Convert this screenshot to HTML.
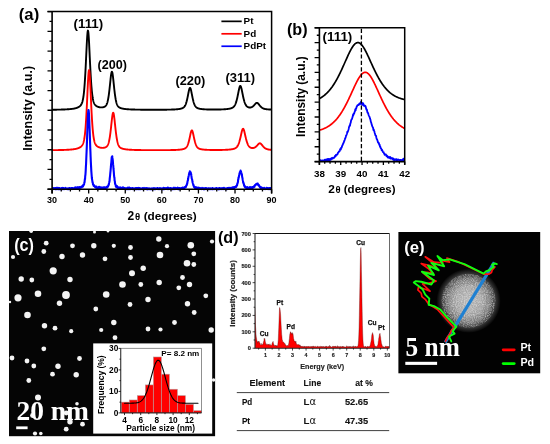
<!DOCTYPE html>
<html lang="en"><head><meta charset="utf-8"><title>XRD, TEM and EDS characterisation of Pt, Pd and PdPt nanoparticles</title>
<style>html,body{margin:0;padding:0;background:#fff}body{width:550px;height:444px;overflow:hidden}svg{display:block}</style></head><body>
<svg width="550" height="444" viewBox="0 0 550 444">
<defs>
<radialGradient id="np" cx="50%" cy="50%" r="50%"><stop offset="0" stop-color="#b8b8b8"/><stop offset="0.45" stop-color="#a0a0a0"/><stop offset="0.68" stop-color="#747474"/><stop offset="0.85" stop-color="#343434"/><stop offset="1" stop-color="#040404"/></radialGradient>
<filter id="grain" x="0" y="0" width="100%" height="100%"><feTurbulence type="fractalNoise" baseFrequency="0.9" numOctaves="2" seed="3" result="n"/><feColorMatrix in="n" type="matrix" values="0 0 0 0 1  0 0 0 0 1  0 0 0 0 1  1.6 0 0 0 -0.55" result="a"/><feComposite in="a" in2="SourceGraphic" operator="in"/></filter>
<filter id="soft" x="-20%" y="-20%" width="140%" height="140%"><feGaussianBlur stdDeviation="0.6"/></filter>
<clipPath id="clipA"><rect x="52" y="11" width="220" height="179.6"/></clipPath>
<clipPath id="clipB"><rect x="319.4" y="27" width="85.6" height="135.5"/></clipPath>
<clipPath id="clipC"><rect x="9.0" y="231.0" width="206.1" height="205.2"/></clipPath>
<clipPath id="clipD"><rect x="255" y="233" width="135" height="115.9"/></clipPath>
</defs>
<rect width="550" height="444" fill="#fff"/>
<g clip-path="url(#clipA)">
<path d="M52.10,109.75 L52.27,109.75 L52.44,109.74 L52.61,109.74 L52.78,109.74 L52.94,109.74 L53.11,109.73 L53.28,109.73 L53.45,109.73 L53.62,109.73 L53.79,109.73 L53.96,109.72 L54.13,109.72 L54.30,109.72 L54.47,109.72 L54.63,109.71 L54.80,109.71 L54.97,109.71 L55.14,109.70 L55.31,109.70 L55.48,109.70 L55.65,109.70 L55.82,109.69 L55.99,109.69 L56.16,109.69 L56.32,109.68 L56.49,109.68 L56.66,109.68 L56.83,109.67 L57.00,109.67 L57.17,109.67 L57.34,109.66 L57.51,109.66 L57.68,109.66 L57.85,109.65 L58.01,109.65 L58.18,109.65 L58.35,109.64 L58.52,109.64 L58.69,109.64 L58.86,109.63 L59.03,109.63 L59.20,109.62 L59.37,109.62 L59.53,109.62 L59.70,109.61 L59.87,109.61 L60.04,109.60 L60.21,109.60 L60.38,109.59 L60.55,109.59 L60.72,109.59 L60.89,109.58 L61.06,109.58 L61.22,109.57 L61.39,109.57 L61.56,109.56 L61.73,109.56 L61.90,109.55 L62.07,109.55 L62.24,109.54 L62.41,109.53 L62.58,109.53 L62.75,109.52 L62.91,109.52 L63.08,109.51 L63.25,109.50 L63.42,109.50 L63.59,109.49 L63.76,109.49 L63.93,109.48 L64.10,109.47 L64.27,109.47 L64.44,109.46 L64.60,109.45 L64.77,109.44 L64.94,109.44 L65.11,109.43 L65.28,109.42 L65.45,109.41 L65.62,109.40 L65.79,109.40 L65.96,109.39 L66.13,109.38 L66.29,109.37 L66.46,109.36 L66.63,109.35 L66.80,109.34 L66.97,109.33 L67.14,109.32 L67.31,109.31 L67.48,109.30 L67.65,109.29 L67.81,109.28 L67.98,109.27 L68.15,109.26 L68.32,109.25 L68.49,109.23 L68.66,109.22 L68.83,109.21 L69.00,109.20 L69.17,109.18 L69.34,109.17 L69.50,109.15 L69.67,109.14 L69.84,109.13 L70.01,109.11 L70.18,109.09 L70.35,109.08 L70.52,109.06 L70.69,109.05 L70.86,109.03 L71.03,109.01 L71.19,108.99 L71.36,108.97 L71.53,108.95 L71.70,108.93 L71.87,108.91 L72.04,108.89 L72.21,108.87 L72.38,108.85 L72.55,108.82 L72.72,108.80 L72.88,108.77 L73.05,108.75 L73.22,108.72 L73.39,108.69 L73.56,108.66 L73.73,108.64 L73.90,108.61 L74.07,108.57 L74.24,108.54 L74.40,108.51 L74.57,108.47 L74.74,108.44 L74.91,108.40 L75.08,108.36 L75.25,108.32 L75.42,108.28 L75.59,108.23 L75.76,108.19 L75.93,108.14 L76.09,108.09 L76.26,108.04 L76.43,107.99 L76.60,107.93 L76.77,107.88 L76.94,107.82 L77.11,107.75 L77.28,107.69 L77.45,107.62 L77.62,107.55 L77.78,107.47 L77.95,107.40 L78.12,107.31 L78.29,107.23 L78.46,107.14 L78.63,107.04 L78.80,106.94 L78.97,106.84 L79.14,106.73 L79.31,106.61 L79.47,106.49 L79.64,106.35 L79.81,106.21 L79.98,106.06 L80.15,105.90 L80.32,105.73 L80.49,105.55 L80.66,105.35 L80.83,105.13 L80.99,104.90 L81.16,104.64 L81.33,104.36 L81.50,104.05 L81.67,103.70 L81.84,103.32 L82.01,102.89 L82.18,102.42 L82.35,101.88 L82.52,101.29 L82.68,100.62 L82.85,99.87 L83.02,99.02 L83.19,98.08 L83.36,97.02 L83.53,95.84 L83.70,94.53 L83.87,93.07 L84.04,91.46 L84.21,89.69 L84.37,87.74 L84.54,85.62 L84.71,83.32 L84.88,80.83 L85.05,78.16 L85.22,75.31 L85.39,72.29 L85.56,69.10 L85.73,65.78 L85.90,62.34 L86.06,58.81 L86.23,55.22 L86.40,51.64 L86.57,48.10 L86.74,44.67 L86.91,41.44 L87.08,38.48 L87.25,35.87 L87.42,33.70 L87.58,32.06 L87.75,30.99 L87.92,30.56 L88.09,30.77 L88.26,31.61 L88.43,33.06 L88.60,35.05 L88.77,37.51 L88.94,40.36 L89.11,43.50 L89.27,46.86 L89.44,50.36 L89.61,53.94 L89.78,57.52 L89.95,61.07 L90.12,64.54 L90.29,67.90 L90.46,71.12 L90.63,74.19 L90.80,77.09 L90.96,79.82 L91.13,82.36 L91.30,84.72 L91.47,86.90 L91.64,88.90 L91.81,90.72 L91.98,92.38 L92.15,93.88 L92.32,95.23 L92.49,96.45 L92.65,97.53 L92.82,98.51 L92.99,99.37 L93.16,100.15 L93.33,100.84 L93.50,101.45 L93.67,101.99 L93.84,102.48 L94.01,102.91 L94.18,103.30 L94.34,103.64 L94.51,103.96 L94.68,104.24 L94.85,104.49 L95.02,104.72 L95.19,104.94 L95.36,105.13 L95.53,105.31 L95.70,105.47 L95.86,105.62 L96.03,105.76 L96.20,105.89 L96.37,106.02 L96.54,106.13 L96.71,106.24 L96.88,106.33 L97.05,106.43 L97.22,106.51 L97.39,106.60 L97.55,106.67 L97.72,106.74 L97.89,106.81 L98.06,106.87 L98.23,106.93 L98.40,106.98 L98.57,107.03 L98.74,107.08 L98.91,107.12 L99.08,107.16 L99.24,107.20 L99.41,107.23 L99.58,107.27 L99.75,107.29 L99.92,107.32 L100.09,107.34 L100.26,107.36 L100.43,107.37 L100.60,107.39 L100.77,107.40 L100.93,107.40 L101.10,107.41 L101.27,107.41 L101.44,107.41 L101.61,107.41 L101.78,107.40 L101.95,107.39 L102.12,107.38 L102.29,107.36 L102.45,107.35 L102.62,107.32 L102.79,107.30 L102.96,107.27 L103.13,107.23 L103.30,107.20 L103.47,107.16 L103.64,107.11 L103.81,107.06 L103.98,107.00 L104.14,106.93 L104.31,106.86 L104.48,106.78 L104.65,106.69 L104.82,106.59 L104.99,106.48 L105.16,106.36 L105.33,106.22 L105.50,106.07 L105.67,105.89 L105.83,105.70 L106.00,105.48 L106.17,105.23 L106.34,104.95 L106.51,104.64 L106.68,104.29 L106.85,103.89 L107.02,103.45 L107.19,102.96 L107.36,102.41 L107.52,101.80 L107.69,101.13 L107.86,100.39 L108.03,99.57 L108.20,98.68 L108.37,97.72 L108.54,96.67 L108.71,95.54 L108.88,94.33 L109.04,93.05 L109.21,91.68 L109.38,90.25 L109.55,88.75 L109.72,87.20 L109.89,85.61 L110.06,83.98 L110.23,82.35 L110.40,80.73 L110.57,79.15 L110.73,77.63 L110.90,76.22 L111.07,74.94 L111.24,73.83 L111.41,72.92 L111.58,72.25 L111.75,71.85 L111.92,71.72 L112.09,71.87 L112.26,72.30 L112.42,73.00 L112.59,73.92 L112.76,75.05 L112.93,76.35 L113.10,77.79 L113.27,79.32 L113.44,80.92 L113.61,82.55 L113.78,84.19 L113.95,85.83 L114.11,87.43 L114.28,89.00 L114.45,90.50 L114.62,91.95 L114.79,93.32 L114.96,94.62 L115.13,95.84 L115.30,96.98 L115.47,98.03 L115.64,99.01 L115.80,99.91 L115.97,100.74 L116.14,101.49 L116.31,102.18 L116.48,102.80 L116.65,103.36 L116.82,103.86 L116.99,104.32 L117.16,104.72 L117.32,105.09 L117.49,105.42 L117.66,105.71 L117.83,105.98 L118.00,106.21 L118.17,106.43 L118.34,106.62 L118.51,106.79 L118.68,106.95 L118.85,107.09 L119.01,107.22 L119.18,107.34 L119.35,107.45 L119.52,107.55 L119.69,107.64 L119.86,107.73 L120.03,107.81 L120.20,107.89 L120.37,107.96 L120.54,108.03 L120.70,108.09 L120.87,108.15 L121.04,108.21 L121.21,108.26 L121.38,108.31 L121.55,108.36 L121.72,108.41 L121.89,108.45 L122.06,108.49 L122.23,108.53 L122.39,108.57 L122.56,108.61 L122.73,108.64 L122.90,108.68 L123.07,108.71 L123.24,108.74 L123.41,108.77 L123.58,108.80 L123.75,108.83 L123.91,108.85 L124.08,108.88 L124.25,108.90 L124.42,108.93 L124.59,108.95 L124.76,108.97 L124.93,108.99 L125.10,109.02 L125.27,109.04 L125.44,109.05 L125.60,109.07 L125.77,109.09 L125.94,109.11 L126.11,109.12 L126.28,109.14 L126.45,109.16 L126.62,109.17 L126.79,109.19 L126.96,109.20 L127.13,109.21 L127.29,109.23 L127.46,109.24 L127.63,109.25 L127.80,109.27 L127.97,109.28 L128.14,109.29 L128.31,109.30 L128.48,109.31 L128.65,109.32 L128.82,109.33 L128.98,109.34 L129.15,109.35 L129.32,109.36 L129.49,109.37 L129.66,109.38 L129.83,109.39 L130.00,109.40 L130.17,109.41 L130.34,109.41 L130.50,109.42 L130.67,109.43 L130.84,109.44 L131.01,109.44 L131.18,109.45 L131.35,109.46 L131.52,109.47 L131.69,109.47 L131.86,109.48 L132.03,109.49 L132.19,109.49 L132.36,109.50 L132.53,109.50 L132.70,109.51 L132.87,109.52 L133.04,109.52 L133.21,109.53 L133.38,109.53 L133.55,109.54 L133.72,109.54 L133.88,109.55 L134.05,109.55 L134.22,109.56 L134.39,109.56 L134.56,109.57 L134.73,109.57 L134.90,109.57 L135.07,109.58 L135.24,109.58 L135.41,109.59 L135.57,109.59 L135.74,109.59 L135.91,109.60 L136.08,109.60 L136.25,109.61 L136.42,109.61 L136.59,109.61 L136.76,109.62 L136.93,109.62 L137.09,109.62 L137.26,109.63 L137.43,109.63 L137.60,109.63 L137.77,109.63 L137.94,109.64 L138.11,109.64 L138.28,109.64 L138.45,109.65 L138.62,109.65 L138.78,109.65 L138.95,109.65 L139.12,109.66 L139.29,109.66 L139.46,109.66 L139.63,109.66 L139.80,109.67 L139.97,109.67 L140.14,109.67 L140.31,109.67 L140.47,109.68 L140.64,109.68 L140.81,109.68 L140.98,109.68 L141.15,109.68 L141.32,109.69 L141.49,109.69 L141.66,109.69 L141.83,109.69 L142.00,109.69 L142.16,109.70 L142.33,109.70 L142.50,109.70 L142.67,109.70 L142.84,109.70 L143.01,109.70 L143.18,109.71 L143.35,109.71 L143.52,109.71 L143.69,109.71 L143.85,109.71 L144.02,109.71 L144.19,109.72 L144.36,109.72 L144.53,109.72 L144.70,109.72 L144.87,109.72 L145.04,109.72 L145.21,109.72 L145.37,109.72 L145.54,109.73 L145.71,109.73 L145.88,109.73 L146.05,109.73 L146.22,109.73 L146.39,109.73 L146.56,109.73 L146.73,109.73 L146.90,109.73 L147.06,109.73 L147.23,109.74 L147.40,109.74 L147.57,109.74 L147.74,109.74 L147.91,109.74 L148.08,109.74 L148.25,109.74 L148.42,109.74 L148.59,109.74 L148.75,109.74 L148.92,109.74 L149.09,109.74 L149.26,109.74 L149.43,109.75 L149.60,109.75 L149.77,109.75 L149.94,109.75 L150.11,109.75 L150.28,109.75 L150.44,109.75 L150.61,109.75 L150.78,109.75 L150.95,109.75 L151.12,109.75 L151.29,109.75 L151.46,109.75 L151.63,109.75 L151.80,109.75 L151.96,109.75 L152.13,109.75 L152.30,109.75 L152.47,109.75 L152.64,109.75 L152.81,109.75 L152.98,109.75 L153.15,109.75 L153.32,109.75 L153.49,109.75 L153.65,109.75 L153.82,109.75 L153.99,109.75 L154.16,109.75 L154.33,109.75 L154.50,109.75 L154.67,109.75 L154.84,109.75 L155.01,109.75 L155.18,109.75 L155.34,109.75 L155.51,109.75 L155.68,109.75 L155.85,109.75 L156.02,109.75 L156.19,109.75 L156.36,109.75 L156.53,109.75 L156.70,109.75 L156.87,109.75 L157.03,109.75 L157.20,109.75 L157.37,109.75 L157.54,109.75 L157.71,109.75 L157.88,109.75 L158.05,109.75 L158.22,109.75 L158.39,109.75 L158.55,109.75 L158.72,109.75 L158.89,109.75 L159.06,109.75 L159.23,109.74 L159.40,109.74 L159.57,109.74 L159.74,109.74 L159.91,109.74 L160.08,109.74 L160.24,109.74 L160.41,109.74 L160.58,109.74 L160.75,109.74 L160.92,109.74 L161.09,109.74 L161.26,109.73 L161.43,109.73 L161.60,109.73 L161.77,109.73 L161.93,109.73 L162.10,109.73 L162.27,109.73 L162.44,109.73 L162.61,109.72 L162.78,109.72 L162.95,109.72 L163.12,109.72 L163.29,109.72 L163.46,109.72 L163.62,109.72 L163.79,109.71 L163.96,109.71 L164.13,109.71 L164.30,109.71 L164.47,109.71 L164.64,109.71 L164.81,109.70 L164.98,109.70 L165.15,109.70 L165.31,109.70 L165.48,109.70 L165.65,109.69 L165.82,109.69 L165.99,109.69 L166.16,109.69 L166.33,109.68 L166.50,109.68 L166.67,109.68 L166.83,109.68 L167.00,109.67 L167.17,109.67 L167.34,109.67 L167.51,109.67 L167.68,109.66 L167.85,109.66 L168.02,109.66 L168.19,109.65 L168.36,109.65 L168.52,109.65 L168.69,109.64 L168.86,109.64 L169.03,109.64 L169.20,109.63 L169.37,109.63 L169.54,109.63 L169.71,109.62 L169.88,109.62 L170.05,109.61 L170.21,109.61 L170.38,109.60 L170.55,109.60 L170.72,109.59 L170.89,109.59 L171.06,109.58 L171.23,109.58 L171.40,109.57 L171.57,109.57 L171.74,109.56 L171.90,109.56 L172.07,109.55 L172.24,109.55 L172.41,109.54 L172.58,109.53 L172.75,109.53 L172.92,109.52 L173.09,109.51 L173.26,109.51 L173.42,109.50 L173.59,109.49 L173.76,109.48 L173.93,109.47 L174.10,109.47 L174.27,109.46 L174.44,109.45 L174.61,109.44 L174.78,109.43 L174.95,109.42 L175.11,109.41 L175.28,109.40 L175.45,109.39 L175.62,109.38 L175.79,109.36 L175.96,109.35 L176.13,109.34 L176.30,109.33 L176.47,109.31 L176.64,109.30 L176.80,109.28 L176.97,109.27 L177.14,109.25 L177.31,109.24 L177.48,109.22 L177.65,109.20 L177.82,109.18 L177.99,109.17 L178.16,109.15 L178.33,109.13 L178.49,109.10 L178.66,109.08 L178.83,109.06 L179.00,109.03 L179.17,109.01 L179.34,108.98 L179.51,108.96 L179.68,108.93 L179.85,108.90 L180.01,108.86 L180.18,108.83 L180.35,108.80 L180.52,108.76 L180.69,108.72 L180.86,108.68 L181.03,108.64 L181.20,108.59 L181.37,108.54 L181.54,108.49 L181.70,108.44 L181.87,108.38 L182.04,108.32 L182.21,108.25 L182.38,108.18 L182.55,108.10 L182.72,108.01 L182.89,107.92 L183.06,107.82 L183.23,107.72 L183.39,107.60 L183.56,107.47 L183.73,107.33 L183.90,107.17 L184.07,107.00 L184.24,106.82 L184.41,106.61 L184.58,106.39 L184.75,106.14 L184.92,105.87 L185.08,105.58 L185.25,105.25 L185.42,104.90 L185.59,104.52 L185.76,104.10 L185.93,103.65 L186.10,103.16 L186.27,102.64 L186.44,102.08 L186.61,101.48 L186.77,100.84 L186.94,100.16 L187.11,99.45 L187.28,98.70 L187.45,97.91 L187.62,97.10 L187.79,96.26 L187.96,95.40 L188.13,94.53 L188.29,93.66 L188.46,92.80 L188.63,91.95 L188.80,91.14 L188.97,90.39 L189.14,89.70 L189.31,89.10 L189.48,88.61 L189.65,88.23 L189.82,87.99 L189.98,87.89 L190.15,87.93 L190.32,88.11 L190.49,88.44 L190.66,88.88 L190.83,89.44 L191.00,90.09 L191.17,90.82 L191.34,91.61 L191.51,92.44 L191.67,93.30 L191.84,94.17 L192.01,95.04 L192.18,95.90 L192.35,96.75 L192.52,97.58 L192.69,98.37 L192.86,99.14 L193.03,99.86 L193.20,100.56 L193.36,101.21 L193.53,101.83 L193.70,102.40 L193.87,102.94 L194.04,103.44 L194.21,103.91 L194.38,104.34 L194.55,104.73 L194.72,105.10 L194.88,105.43 L195.05,105.74 L195.22,106.02 L195.39,106.27 L195.56,106.51 L195.73,106.72 L195.90,106.91 L196.07,107.09 L196.24,107.25 L196.41,107.39 L196.57,107.53 L196.74,107.65 L196.91,107.76 L197.08,107.86 L197.25,107.95 L197.42,108.04 L197.59,108.12 L197.76,108.19 L197.93,108.26 L198.10,108.33 L198.26,108.39 L198.43,108.44 L198.60,108.49 L198.77,108.54 L198.94,108.59 L199.11,108.63 L199.28,108.67 L199.45,108.71 L199.62,108.75 L199.79,108.78 L199.95,108.82 L200.12,108.85 L200.29,108.88 L200.46,108.91 L200.63,108.93 L200.80,108.96 L200.97,108.99 L201.14,109.01 L201.31,109.03 L201.47,109.05 L201.64,109.08 L201.81,109.10 L201.98,109.11 L202.15,109.13 L202.32,109.15 L202.49,109.17 L202.66,109.18 L202.83,109.20 L203.00,109.21 L203.16,109.23 L203.33,109.24 L203.50,109.26 L203.67,109.27 L203.84,109.28 L204.01,109.29 L204.18,109.30 L204.35,109.32 L204.52,109.33 L204.69,109.34 L204.85,109.35 L205.02,109.35 L205.19,109.36 L205.36,109.37 L205.53,109.38 L205.70,109.39 L205.87,109.40 L206.04,109.40 L206.21,109.41 L206.38,109.42 L206.54,109.43 L206.71,109.43 L206.88,109.44 L207.05,109.44 L207.22,109.45 L207.39,109.45 L207.56,109.46 L207.73,109.47 L207.90,109.47 L208.06,109.47 L208.23,109.48 L208.40,109.48 L208.57,109.49 L208.74,109.49 L208.91,109.50 L209.08,109.50 L209.25,109.50 L209.42,109.51 L209.59,109.51 L209.75,109.51 L209.92,109.51 L210.09,109.52 L210.26,109.52 L210.43,109.52 L210.60,109.52 L210.77,109.53 L210.94,109.53 L211.11,109.53 L211.28,109.53 L211.44,109.53 L211.61,109.54 L211.78,109.54 L211.95,109.54 L212.12,109.54 L212.29,109.54 L212.46,109.54 L212.63,109.54 L212.80,109.54 L212.97,109.54 L213.13,109.54 L213.30,109.54 L213.47,109.54 L213.64,109.54 L213.81,109.54 L213.98,109.54 L214.15,109.54 L214.32,109.54 L214.49,109.54 L214.66,109.54 L214.82,109.54 L214.99,109.54 L215.16,109.54 L215.33,109.54 L215.50,109.54 L215.67,109.54 L215.84,109.54 L216.01,109.54 L216.18,109.53 L216.34,109.53 L216.51,109.53 L216.68,109.53 L216.85,109.53 L217.02,109.53 L217.19,109.52 L217.36,109.52 L217.53,109.52 L217.70,109.52 L217.87,109.51 L218.03,109.51 L218.20,109.51 L218.37,109.50 L218.54,109.50 L218.71,109.50 L218.88,109.49 L219.05,109.49 L219.22,109.49 L219.39,109.48 L219.56,109.48 L219.72,109.48 L219.89,109.47 L220.06,109.47 L220.23,109.46 L220.40,109.46 L220.57,109.45 L220.74,109.45 L220.91,109.44 L221.08,109.44 L221.25,109.43 L221.41,109.42 L221.58,109.42 L221.75,109.41 L221.92,109.40 L222.09,109.40 L222.26,109.39 L222.43,109.38 L222.60,109.38 L222.77,109.37 L222.93,109.36 L223.10,109.35 L223.27,109.34 L223.44,109.33 L223.61,109.33 L223.78,109.32 L223.95,109.31 L224.12,109.30 L224.29,109.29 L224.46,109.27 L224.62,109.26 L224.79,109.25 L224.96,109.24 L225.13,109.23 L225.30,109.21 L225.47,109.20 L225.64,109.19 L225.81,109.17 L225.98,109.16 L226.15,109.14 L226.31,109.13 L226.48,109.11 L226.65,109.09 L226.82,109.08 L226.99,109.06 L227.16,109.04 L227.33,109.02 L227.50,109.00 L227.67,108.98 L227.84,108.96 L228.00,108.93 L228.17,108.91 L228.34,108.88 L228.51,108.86 L228.68,108.83 L228.85,108.80 L229.02,108.77 L229.19,108.74 L229.36,108.71 L229.52,108.68 L229.69,108.64 L229.86,108.61 L230.03,108.57 L230.20,108.53 L230.37,108.49 L230.54,108.44 L230.71,108.39 L230.88,108.34 L231.05,108.29 L231.21,108.24 L231.38,108.18 L231.55,108.11 L231.72,108.05 L231.89,107.97 L232.06,107.90 L232.23,107.82 L232.40,107.73 L232.57,107.63 L232.74,107.53 L232.90,107.42 L233.07,107.30 L233.24,107.17 L233.41,107.02 L233.58,106.87 L233.75,106.70 L233.92,106.52 L234.09,106.32 L234.26,106.10 L234.43,105.87 L234.59,105.61 L234.76,105.34 L234.93,105.04 L235.10,104.71 L235.27,104.36 L235.44,103.98 L235.61,103.57 L235.78,103.13 L235.95,102.66 L236.12,102.15 L236.28,101.62 L236.45,101.05 L236.62,100.44 L236.79,99.80 L236.96,99.13 L237.13,98.42 L237.30,97.68 L237.47,96.91 L237.64,96.12 L237.80,95.30 L237.97,94.47 L238.14,93.62 L238.31,92.76 L238.48,91.90 L238.65,91.06 L238.82,90.24 L238.99,89.45 L239.16,88.71 L239.33,88.03 L239.49,87.42 L239.66,86.91 L239.83,86.49 L240.00,86.19 L240.17,86.01 L240.34,85.96 L240.51,86.03 L240.68,86.23 L240.85,86.55 L241.02,86.98 L241.18,87.51 L241.35,88.13 L241.52,88.82 L241.69,89.57 L241.86,90.36 L242.03,91.18 L242.20,92.02 L242.37,92.87 L242.54,93.71 L242.71,94.55 L242.87,95.38 L243.04,96.19 L243.21,96.97 L243.38,97.72 L243.55,98.44 L243.72,99.14 L243.89,99.79 L244.06,100.42 L244.23,101.01 L244.39,101.56 L244.56,102.09 L244.73,102.57 L244.90,103.03 L245.07,103.45 L245.24,103.84 L245.41,104.21 L245.58,104.54 L245.75,104.85 L245.92,105.14 L246.08,105.40 L246.25,105.63 L246.42,105.85 L246.59,106.05 L246.76,106.23 L246.93,106.39 L247.10,106.54 L247.27,106.68 L247.44,106.80 L247.61,106.91 L247.77,107.01 L247.94,107.09 L248.11,107.17 L248.28,107.24 L248.45,107.30 L248.62,107.36 L248.79,107.40 L248.96,107.44 L249.13,107.47 L249.30,107.50 L249.46,107.51 L249.63,107.53 L249.80,107.53 L249.97,107.53 L250.14,107.52 L250.31,107.51 L250.48,107.49 L250.65,107.46 L250.82,107.43 L250.98,107.39 L251.15,107.34 L251.32,107.28 L251.49,107.22 L251.66,107.15 L251.83,107.07 L252.00,106.98 L252.17,106.89 L252.34,106.78 L252.51,106.67 L252.67,106.55 L252.84,106.42 L253.01,106.29 L253.18,106.14 L253.35,105.99 L253.52,105.83 L253.69,105.66 L253.86,105.49 L254.03,105.31 L254.20,105.12 L254.36,104.94 L254.53,104.74 L254.70,104.55 L254.87,104.36 L255.04,104.16 L255.21,103.97 L255.38,103.79 L255.55,103.62 L255.72,103.46 L255.89,103.31 L256.05,103.17 L256.22,103.06 L256.39,102.97 L256.56,102.90 L256.73,102.86 L256.90,102.85 L257.07,102.86 L257.24,102.90 L257.41,102.97 L257.57,103.06 L257.74,103.18 L257.91,103.31 L258.08,103.47 L258.25,103.64 L258.42,103.83 L258.59,104.03 L258.76,104.23 L258.93,104.44 L259.10,104.66 L259.26,104.87 L259.43,105.09 L259.60,105.31 L259.77,105.52 L259.94,105.72 L260.11,105.93 L260.28,106.13 L260.45,106.32 L260.62,106.50 L260.79,106.68 L260.95,106.85 L261.12,107.01 L261.29,107.17 L261.46,107.31 L261.63,107.45 L261.80,107.59 L261.97,107.71 L262.14,107.83 L262.31,107.94 L262.48,108.05 L262.64,108.14 L262.81,108.24 L262.98,108.32 L263.15,108.40 L263.32,108.48 L263.49,108.55 L263.66,108.61 L263.83,108.67 L264.00,108.73 L264.17,108.78 L264.33,108.83 L264.50,108.88 L264.67,108.92 L264.84,108.96 L265.01,109.00 L265.18,109.03 L265.35,109.07 L265.52,109.10 L265.69,109.13 L265.85,109.15 L266.02,109.18 L266.19,109.20 L266.36,109.22 L266.53,109.24 L266.70,109.27 L266.87,109.28 L267.04,109.30 L267.21,109.32 L267.38,109.34 L267.54,109.35 L267.71,109.37 L267.88,109.38 L268.05,109.39 L268.22,109.41 L268.39,109.42 L268.56,109.43 L268.73,109.44 L268.90,109.46 L269.07,109.47 L269.23,109.48 L269.40,109.49 L269.57,109.50 L269.74,109.51 L269.91,109.52 L270.08,109.52 L270.25,109.53 L270.42,109.54 L270.59,109.55 L270.76,109.56 L270.92,109.57 L271.09,109.57 L271.26,109.58 L271.43,109.59 L271.60,109.59" stroke="#000" stroke-width="1.9" fill="none" stroke-linejoin="round" stroke-linecap="round" />
<path d="M52.10,150.17 L52.27,150.16 L52.44,150.16 L52.61,150.16 L52.78,150.16 L52.94,150.16 L53.11,150.15 L53.28,150.15 L53.45,150.15 L53.62,150.15 L53.79,150.15 L53.96,150.14 L54.13,150.14 L54.30,150.14 L54.47,150.14 L54.63,150.13 L54.80,150.13 L54.97,150.13 L55.14,150.13 L55.31,150.12 L55.48,150.12 L55.65,150.12 L55.82,150.12 L55.99,150.11 L56.16,150.11 L56.32,150.11 L56.49,150.11 L56.66,150.10 L56.83,150.10 L57.00,150.10 L57.17,150.09 L57.34,150.09 L57.51,150.09 L57.68,150.09 L57.85,150.08 L58.01,150.08 L58.18,150.08 L58.35,150.07 L58.52,150.07 L58.69,150.07 L58.86,150.06 L59.03,150.06 L59.20,150.06 L59.37,150.05 L59.53,150.05 L59.70,150.04 L59.87,150.04 L60.04,150.04 L60.21,150.03 L60.38,150.03 L60.55,150.03 L60.72,150.02 L60.89,150.02 L61.06,150.01 L61.22,150.01 L61.39,150.00 L61.56,150.00 L61.73,150.00 L61.90,149.99 L62.07,149.99 L62.24,149.98 L62.41,149.98 L62.58,149.97 L62.75,149.97 L62.91,149.96 L63.08,149.96 L63.25,149.95 L63.42,149.95 L63.59,149.94 L63.76,149.93 L63.93,149.93 L64.10,149.92 L64.27,149.92 L64.44,149.91 L64.60,149.90 L64.77,149.90 L64.94,149.89 L65.11,149.89 L65.28,149.88 L65.45,149.87 L65.62,149.86 L65.79,149.86 L65.96,149.85 L66.13,149.84 L66.29,149.84 L66.46,149.83 L66.63,149.82 L66.80,149.81 L66.97,149.80 L67.14,149.79 L67.31,149.79 L67.48,149.78 L67.65,149.77 L67.81,149.76 L67.98,149.75 L68.15,149.74 L68.32,149.73 L68.49,149.72 L68.66,149.71 L68.83,149.70 L69.00,149.69 L69.17,149.68 L69.34,149.66 L69.50,149.65 L69.67,149.64 L69.84,149.63 L70.01,149.62 L70.18,149.60 L70.35,149.59 L70.52,149.58 L70.69,149.56 L70.86,149.55 L71.03,149.53 L71.19,149.52 L71.36,149.50 L71.53,149.49 L71.70,149.47 L71.87,149.45 L72.04,149.44 L72.21,149.42 L72.38,149.40 L72.55,149.38 L72.72,149.36 L72.88,149.34 L73.05,149.32 L73.22,149.30 L73.39,149.28 L73.56,149.25 L73.73,149.23 L73.90,149.21 L74.07,149.18 L74.24,149.16 L74.40,149.13 L74.57,149.10 L74.74,149.07 L74.91,149.04 L75.08,149.01 L75.25,148.98 L75.42,148.95 L75.59,148.92 L75.76,148.88 L75.93,148.85 L76.09,148.81 L76.26,148.77 L76.43,148.73 L76.60,148.69 L76.77,148.64 L76.94,148.60 L77.11,148.55 L77.28,148.50 L77.45,148.45 L77.62,148.40 L77.78,148.34 L77.95,148.28 L78.12,148.22 L78.29,148.16 L78.46,148.09 L78.63,148.03 L78.80,147.95 L78.97,147.88 L79.14,147.80 L79.31,147.72 L79.47,147.63 L79.64,147.54 L79.81,147.44 L79.98,147.34 L80.15,147.24 L80.32,147.12 L80.49,147.01 L80.66,146.88 L80.83,146.75 L80.99,146.60 L81.16,146.45 L81.33,146.29 L81.50,146.12 L81.67,145.93 L81.84,145.73 L82.01,145.51 L82.18,145.27 L82.35,145.01 L82.52,144.72 L82.68,144.40 L82.85,144.05 L83.02,143.66 L83.19,143.22 L83.36,142.74 L83.53,142.19 L83.70,141.58 L83.87,140.89 L84.04,140.11 L84.21,139.24 L84.37,138.26 L84.54,137.16 L84.71,135.94 L84.88,134.57 L85.05,133.06 L85.22,131.38 L85.39,129.53 L85.56,127.50 L85.73,125.28 L85.90,122.88 L86.06,120.28 L86.23,117.49 L86.40,114.52 L86.57,111.37 L86.74,108.06 L86.91,104.60 L87.08,101.04 L87.25,97.39 L87.42,93.70 L87.58,90.03 L87.75,86.43 L87.92,82.99 L88.09,79.77 L88.26,76.87 L88.43,74.39 L88.60,72.40 L88.77,70.98 L88.94,70.20 L89.11,70.09 L89.27,70.64 L89.44,71.85 L89.61,73.65 L89.78,75.98 L89.95,78.74 L90.12,81.85 L90.29,85.23 L90.46,88.78 L90.63,92.42 L90.80,96.11 L90.96,99.76 L91.13,103.36 L91.30,106.84 L91.47,110.20 L91.64,113.39 L91.81,116.42 L91.98,119.26 L92.15,121.92 L92.32,124.38 L92.49,126.65 L92.65,128.73 L92.82,130.63 L92.99,132.36 L93.16,133.92 L93.33,135.33 L93.50,136.59 L93.67,137.72 L93.84,138.73 L94.01,139.62 L94.18,140.42 L94.34,141.13 L94.51,141.76 L94.68,142.32 L94.85,142.82 L95.02,143.26 L95.19,143.66 L95.36,144.01 L95.53,144.33 L95.70,144.62 L95.86,144.88 L96.03,145.11 L96.20,145.33 L96.37,145.52 L96.54,145.70 L96.71,145.87 L96.88,146.02 L97.05,146.17 L97.22,146.30 L97.39,146.42 L97.55,146.54 L97.72,146.65 L97.89,146.75 L98.06,146.84 L98.23,146.93 L98.40,147.01 L98.57,147.09 L98.74,147.16 L98.91,147.23 L99.08,147.30 L99.24,147.35 L99.41,147.41 L99.58,147.46 L99.75,147.51 L99.92,147.55 L100.09,147.60 L100.26,147.63 L100.43,147.67 L100.60,147.70 L100.77,147.73 L100.93,147.75 L101.10,147.78 L101.27,147.80 L101.44,147.82 L101.61,147.83 L101.78,147.84 L101.95,147.85 L102.12,147.86 L102.29,147.86 L102.45,147.86 L102.62,147.86 L102.79,147.86 L102.96,147.85 L103.13,147.84 L103.30,147.83 L103.47,147.81 L103.64,147.79 L103.81,147.77 L103.98,147.75 L104.14,147.72 L104.31,147.69 L104.48,147.65 L104.65,147.61 L104.82,147.56 L104.99,147.51 L105.16,147.45 L105.33,147.39 L105.50,147.32 L105.67,147.24 L105.83,147.15 L106.00,147.06 L106.17,146.95 L106.34,146.83 L106.51,146.70 L106.68,146.55 L106.85,146.38 L107.02,146.19 L107.19,145.98 L107.36,145.74 L107.52,145.47 L107.69,145.17 L107.86,144.84 L108.03,144.46 L108.20,144.04 L108.37,143.57 L108.54,143.05 L108.71,142.47 L108.88,141.83 L109.04,141.13 L109.21,140.35 L109.38,139.51 L109.55,138.59 L109.72,137.60 L109.89,136.53 L110.06,135.38 L110.23,134.15 L110.40,132.85 L110.57,131.49 L110.73,130.06 L110.90,128.57 L111.07,127.04 L111.24,125.47 L111.41,123.89 L111.58,122.31 L111.75,120.75 L111.92,119.25 L112.09,117.83 L112.26,116.51 L112.42,115.35 L112.59,114.36 L112.76,113.59 L112.93,113.05 L113.10,112.78 L113.27,112.77 L113.44,113.03 L113.61,113.55 L113.78,114.31 L113.95,115.28 L114.11,116.44 L114.28,117.75 L114.45,119.18 L114.62,120.69 L114.79,122.25 L114.96,123.84 L115.13,125.44 L115.30,127.02 L115.47,128.57 L115.64,130.07 L115.80,131.52 L115.97,132.91 L116.14,134.23 L116.31,135.47 L116.48,136.64 L116.65,137.74 L116.82,138.75 L116.99,139.69 L117.16,140.56 L117.32,141.35 L117.49,142.08 L117.66,142.74 L117.83,143.34 L118.00,143.88 L118.17,144.37 L118.34,144.81 L118.51,145.21 L118.68,145.57 L118.85,145.89 L119.01,146.17 L119.18,146.43 L119.35,146.66 L119.52,146.87 L119.69,147.06 L119.86,147.23 L120.03,147.38 L120.20,147.52 L120.37,147.65 L120.54,147.77 L120.70,147.88 L120.87,147.98 L121.04,148.07 L121.21,148.16 L121.38,148.24 L121.55,148.31 L121.72,148.38 L121.89,148.45 L122.06,148.51 L122.23,148.57 L122.39,148.62 L122.56,148.68 L122.73,148.73 L122.90,148.78 L123.07,148.82 L123.24,148.87 L123.41,148.91 L123.58,148.95 L123.75,148.99 L123.91,149.02 L124.08,149.06 L124.25,149.09 L124.42,149.12 L124.59,149.15 L124.76,149.18 L124.93,149.21 L125.10,149.24 L125.27,149.27 L125.44,149.29 L125.60,149.32 L125.77,149.34 L125.94,149.36 L126.11,149.38 L126.28,149.40 L126.45,149.42 L126.62,149.44 L126.79,149.46 L126.96,149.48 L127.13,149.50 L127.29,149.52 L127.46,149.53 L127.63,149.55 L127.80,149.57 L127.97,149.58 L128.14,149.60 L128.31,149.61 L128.48,149.62 L128.65,149.64 L128.82,149.65 L128.98,149.66 L129.15,149.67 L129.32,149.69 L129.49,149.70 L129.66,149.71 L129.83,149.72 L130.00,149.73 L130.17,149.74 L130.34,149.75 L130.50,149.76 L130.67,149.77 L130.84,149.78 L131.01,149.79 L131.18,149.80 L131.35,149.81 L131.52,149.81 L131.69,149.82 L131.86,149.83 L132.03,149.84 L132.19,149.85 L132.36,149.85 L132.53,149.86 L132.70,149.87 L132.87,149.87 L133.04,149.88 L133.21,149.89 L133.38,149.89 L133.55,149.90 L133.72,149.91 L133.88,149.91 L134.05,149.92 L134.22,149.92 L134.39,149.93 L134.56,149.93 L134.73,149.94 L134.90,149.94 L135.07,149.95 L135.24,149.95 L135.41,149.96 L135.57,149.96 L135.74,149.97 L135.91,149.97 L136.08,149.98 L136.25,149.98 L136.42,149.99 L136.59,149.99 L136.76,149.99 L136.93,150.00 L137.09,150.00 L137.26,150.01 L137.43,150.01 L137.60,150.01 L137.77,150.02 L137.94,150.02 L138.11,150.02 L138.28,150.03 L138.45,150.03 L138.62,150.03 L138.78,150.04 L138.95,150.04 L139.12,150.04 L139.29,150.05 L139.46,150.05 L139.63,150.05 L139.80,150.06 L139.97,150.06 L140.14,150.06 L140.31,150.06 L140.47,150.07 L140.64,150.07 L140.81,150.07 L140.98,150.07 L141.15,150.08 L141.32,150.08 L141.49,150.08 L141.66,150.08 L141.83,150.09 L142.00,150.09 L142.16,150.09 L142.33,150.09 L142.50,150.09 L142.67,150.10 L142.84,150.10 L143.01,150.10 L143.18,150.10 L143.35,150.10 L143.52,150.11 L143.69,150.11 L143.85,150.11 L144.02,150.11 L144.19,150.11 L144.36,150.11 L144.53,150.12 L144.70,150.12 L144.87,150.12 L145.04,150.12 L145.21,150.12 L145.37,150.12 L145.54,150.13 L145.71,150.13 L145.88,150.13 L146.05,150.13 L146.22,150.13 L146.39,150.13 L146.56,150.13 L146.73,150.13 L146.90,150.14 L147.06,150.14 L147.23,150.14 L147.40,150.14 L147.57,150.14 L147.74,150.14 L147.91,150.14 L148.08,150.14 L148.25,150.14 L148.42,150.15 L148.59,150.15 L148.75,150.15 L148.92,150.15 L149.09,150.15 L149.26,150.15 L149.43,150.15 L149.60,150.15 L149.77,150.15 L149.94,150.15 L150.11,150.15 L150.28,150.16 L150.44,150.16 L150.61,150.16 L150.78,150.16 L150.95,150.16 L151.12,150.16 L151.29,150.16 L151.46,150.16 L151.63,150.16 L151.80,150.16 L151.96,150.16 L152.13,150.16 L152.30,150.16 L152.47,150.16 L152.64,150.16 L152.81,150.16 L152.98,150.16 L153.15,150.17 L153.32,150.17 L153.49,150.17 L153.65,150.17 L153.82,150.17 L153.99,150.17 L154.16,150.17 L154.33,150.17 L154.50,150.17 L154.67,150.17 L154.84,150.17 L155.01,150.17 L155.18,150.17 L155.34,150.17 L155.51,150.17 L155.68,150.17 L155.85,150.17 L156.02,150.17 L156.19,150.17 L156.36,150.17 L156.53,150.17 L156.70,150.17 L156.87,150.17 L157.03,150.17 L157.20,150.17 L157.37,150.17 L157.54,150.17 L157.71,150.17 L157.88,150.17 L158.05,150.17 L158.22,150.17 L158.39,150.17 L158.55,150.17 L158.72,150.17 L158.89,150.17 L159.06,150.17 L159.23,150.17 L159.40,150.17 L159.57,150.17 L159.74,150.17 L159.91,150.17 L160.08,150.17 L160.24,150.17 L160.41,150.16 L160.58,150.16 L160.75,150.16 L160.92,150.16 L161.09,150.16 L161.26,150.16 L161.43,150.16 L161.60,150.16 L161.77,150.16 L161.93,150.16 L162.10,150.16 L162.27,150.16 L162.44,150.16 L162.61,150.16 L162.78,150.16 L162.95,150.16 L163.12,150.15 L163.29,150.15 L163.46,150.15 L163.62,150.15 L163.79,150.15 L163.96,150.15 L164.13,150.15 L164.30,150.15 L164.47,150.15 L164.64,150.15 L164.81,150.14 L164.98,150.14 L165.15,150.14 L165.31,150.14 L165.48,150.14 L165.65,150.14 L165.82,150.14 L165.99,150.13 L166.16,150.13 L166.33,150.13 L166.50,150.13 L166.67,150.13 L166.83,150.13 L167.00,150.12 L167.17,150.12 L167.34,150.12 L167.51,150.12 L167.68,150.12 L167.85,150.12 L168.02,150.11 L168.19,150.11 L168.36,150.11 L168.52,150.11 L168.69,150.10 L168.86,150.10 L169.03,150.10 L169.20,150.10 L169.37,150.10 L169.54,150.09 L169.71,150.09 L169.88,150.09 L170.05,150.08 L170.21,150.08 L170.38,150.08 L170.55,150.08 L170.72,150.07 L170.89,150.07 L171.06,150.07 L171.23,150.06 L171.40,150.06 L171.57,150.06 L171.74,150.05 L171.90,150.05 L172.07,150.05 L172.24,150.04 L172.41,150.04 L172.58,150.03 L172.75,150.03 L172.92,150.02 L173.09,150.02 L173.26,150.02 L173.42,150.01 L173.59,150.01 L173.76,150.00 L173.93,150.00 L174.10,149.99 L174.27,149.98 L174.44,149.98 L174.61,149.97 L174.78,149.97 L174.95,149.96 L175.11,149.95 L175.28,149.95 L175.45,149.94 L175.62,149.93 L175.79,149.93 L175.96,149.92 L176.13,149.91 L176.30,149.90 L176.47,149.90 L176.64,149.89 L176.80,149.88 L176.97,149.87 L177.14,149.86 L177.31,149.85 L177.48,149.84 L177.65,149.83 L177.82,149.82 L177.99,149.81 L178.16,149.80 L178.33,149.78 L178.49,149.77 L178.66,149.76 L178.83,149.75 L179.00,149.73 L179.17,149.72 L179.34,149.70 L179.51,149.69 L179.68,149.67 L179.85,149.65 L180.01,149.64 L180.18,149.62 L180.35,149.60 L180.52,149.58 L180.69,149.56 L180.86,149.54 L181.03,149.51 L181.20,149.49 L181.37,149.47 L181.54,149.44 L181.70,149.41 L181.87,149.39 L182.04,149.36 L182.21,149.32 L182.38,149.29 L182.55,149.26 L182.72,149.22 L182.89,149.18 L183.06,149.14 L183.23,149.10 L183.39,149.05 L183.56,149.01 L183.73,148.95 L183.90,148.90 L184.07,148.84 L184.24,148.77 L184.41,148.70 L184.58,148.63 L184.75,148.55 L184.92,148.46 L185.08,148.37 L185.25,148.26 L185.42,148.15 L185.59,148.02 L185.76,147.88 L185.93,147.73 L186.10,147.56 L186.27,147.38 L186.44,147.18 L186.61,146.96 L186.77,146.72 L186.94,146.45 L187.11,146.16 L187.28,145.84 L187.45,145.50 L187.62,145.12 L187.79,144.71 L187.96,144.27 L188.13,143.80 L188.29,143.29 L188.46,142.74 L188.63,142.16 L188.80,141.54 L188.97,140.88 L189.14,140.20 L189.31,139.48 L189.48,138.74 L189.65,137.97 L189.82,137.18 L189.98,136.38 L190.15,135.58 L190.32,134.79 L190.49,134.02 L190.66,133.28 L190.83,132.59 L191.00,131.97 L191.17,131.43 L191.34,130.99 L191.51,130.67 L191.67,130.46 L191.84,130.39 L192.01,130.45 L192.18,130.65 L192.35,130.97 L192.52,131.40 L192.69,131.94 L192.86,132.55 L193.03,133.24 L193.20,133.97 L193.36,134.74 L193.53,135.53 L193.70,136.33 L193.87,137.13 L194.04,137.92 L194.21,138.68 L194.38,139.43 L194.55,140.15 L194.72,140.84 L194.88,141.49 L195.05,142.11 L195.22,142.70 L195.39,143.24 L195.56,143.76 L195.73,144.23 L195.90,144.68 L196.07,145.09 L196.24,145.47 L196.41,145.81 L196.57,146.13 L196.74,146.42 L196.91,146.69 L197.08,146.93 L197.25,147.15 L197.42,147.36 L197.59,147.54 L197.76,147.71 L197.93,147.86 L198.10,148.00 L198.26,148.12 L198.43,148.24 L198.60,148.34 L198.77,148.44 L198.94,148.52 L199.11,148.61 L199.28,148.68 L199.45,148.75 L199.62,148.81 L199.79,148.87 L199.95,148.93 L200.12,148.98 L200.29,149.03 L200.46,149.07 L200.63,149.12 L200.80,149.16 L200.97,149.19 L201.14,149.23 L201.31,149.26 L201.47,149.30 L201.64,149.33 L201.81,149.36 L201.98,149.38 L202.15,149.41 L202.32,149.43 L202.49,149.46 L202.66,149.48 L202.83,149.50 L203.00,149.52 L203.16,149.54 L203.33,149.56 L203.50,149.58 L203.67,149.60 L203.84,149.62 L204.01,149.63 L204.18,149.65 L204.35,149.66 L204.52,149.68 L204.69,149.69 L204.85,149.70 L205.02,149.72 L205.19,149.73 L205.36,149.74 L205.53,149.75 L205.70,149.76 L205.87,149.77 L206.04,149.78 L206.21,149.79 L206.38,149.80 L206.54,149.81 L206.71,149.82 L206.88,149.83 L207.05,149.84 L207.22,149.84 L207.39,149.85 L207.56,149.86 L207.73,149.86 L207.90,149.87 L208.06,149.88 L208.23,149.88 L208.40,149.89 L208.57,149.90 L208.74,149.90 L208.91,149.91 L209.08,149.91 L209.25,149.92 L209.42,149.92 L209.59,149.92 L209.75,149.93 L209.92,149.93 L210.09,149.94 L210.26,149.94 L210.43,149.94 L210.60,149.95 L210.77,149.95 L210.94,149.95 L211.11,149.96 L211.28,149.96 L211.44,149.96 L211.61,149.97 L211.78,149.97 L211.95,149.97 L212.12,149.97 L212.29,149.98 L212.46,149.98 L212.63,149.98 L212.80,149.98 L212.97,149.98 L213.13,149.98 L213.30,149.99 L213.47,149.99 L213.64,149.99 L213.81,149.99 L213.98,149.99 L214.15,149.99 L214.32,149.99 L214.49,149.99 L214.66,149.99 L214.82,150.00 L214.99,150.00 L215.16,150.00 L215.33,150.00 L215.50,150.00 L215.67,150.00 L215.84,150.00 L216.01,150.00 L216.18,150.00 L216.34,150.00 L216.51,150.00 L216.68,150.00 L216.85,150.00 L217.02,149.99 L217.19,149.99 L217.36,149.99 L217.53,149.99 L217.70,149.99 L217.87,149.99 L218.03,149.99 L218.20,149.99 L218.37,149.99 L218.54,149.99 L218.71,149.98 L218.88,149.98 L219.05,149.98 L219.22,149.98 L219.39,149.98 L219.56,149.97 L219.72,149.97 L219.89,149.97 L220.06,149.97 L220.23,149.97 L220.40,149.96 L220.57,149.96 L220.74,149.96 L220.91,149.95 L221.08,149.95 L221.25,149.95 L221.41,149.95 L221.58,149.94 L221.75,149.94 L221.92,149.93 L222.09,149.93 L222.26,149.93 L222.43,149.92 L222.60,149.92 L222.77,149.91 L222.93,149.91 L223.10,149.91 L223.27,149.90 L223.44,149.90 L223.61,149.89 L223.78,149.89 L223.95,149.88 L224.12,149.87 L224.29,149.87 L224.46,149.86 L224.62,149.86 L224.79,149.85 L224.96,149.84 L225.13,149.84 L225.30,149.83 L225.47,149.82 L225.64,149.82 L225.81,149.81 L225.98,149.80 L226.15,149.79 L226.31,149.78 L226.48,149.77 L226.65,149.76 L226.82,149.76 L226.99,149.75 L227.16,149.74 L227.33,149.73 L227.50,149.71 L227.67,149.70 L227.84,149.69 L228.00,149.68 L228.17,149.67 L228.34,149.66 L228.51,149.64 L228.68,149.63 L228.85,149.61 L229.02,149.60 L229.19,149.59 L229.36,149.57 L229.52,149.55 L229.69,149.54 L229.86,149.52 L230.03,149.50 L230.20,149.48 L230.37,149.46 L230.54,149.44 L230.71,149.42 L230.88,149.40 L231.05,149.38 L231.21,149.35 L231.38,149.33 L231.55,149.30 L231.72,149.28 L231.89,149.25 L232.06,149.22 L232.23,149.19 L232.40,149.16 L232.57,149.12 L232.74,149.09 L232.90,149.05 L233.07,149.01 L233.24,148.97 L233.41,148.93 L233.58,148.88 L233.75,148.84 L233.92,148.78 L234.09,148.73 L234.26,148.67 L234.43,148.61 L234.59,148.55 L234.76,148.48 L234.93,148.40 L235.10,148.32 L235.27,148.23 L235.44,148.14 L235.61,148.04 L235.78,147.93 L235.95,147.81 L236.12,147.68 L236.28,147.54 L236.45,147.39 L236.62,147.22 L236.79,147.04 L236.96,146.85 L237.13,146.64 L237.30,146.40 L237.47,146.15 L237.64,145.88 L237.80,145.59 L237.97,145.28 L238.14,144.94 L238.31,144.57 L238.48,144.18 L238.65,143.75 L238.82,143.30 L238.99,142.82 L239.16,142.32 L239.33,141.78 L239.49,141.21 L239.66,140.61 L239.83,139.98 L240.00,139.32 L240.17,138.64 L240.34,137.94 L240.51,137.21 L240.68,136.47 L240.85,135.71 L241.02,134.95 L241.18,134.19 L241.35,133.44 L241.52,132.71 L241.69,132.00 L241.86,131.34 L242.03,130.72 L242.20,130.17 L242.37,129.70 L242.54,129.31 L242.71,129.02 L242.87,128.83 L243.04,128.76 L243.21,128.80 L243.38,128.95 L243.55,129.21 L243.72,129.56 L243.89,130.01 L244.06,130.53 L244.23,131.13 L244.39,131.77 L244.56,132.46 L244.73,133.18 L244.90,133.92 L245.07,134.68 L245.24,135.43 L245.41,136.18 L245.58,136.92 L245.75,137.64 L245.92,138.34 L246.08,139.03 L246.25,139.68 L246.42,140.31 L246.59,140.91 L246.76,141.47 L246.93,142.01 L247.10,142.52 L247.27,143.00 L247.44,143.45 L247.61,143.87 L247.77,144.26 L247.94,144.62 L248.11,144.96 L248.28,145.27 L248.45,145.56 L248.62,145.82 L248.79,146.06 L248.96,146.28 L249.13,146.49 L249.30,146.67 L249.46,146.84 L249.63,147.00 L249.80,147.14 L249.97,147.26 L250.14,147.38 L250.31,147.48 L250.48,147.57 L250.65,147.65 L250.82,147.73 L250.98,147.79 L251.15,147.85 L251.32,147.90 L251.49,147.94 L251.66,147.97 L251.83,148.00 L252.00,148.02 L252.17,148.04 L252.34,148.05 L252.51,148.05 L252.67,148.05 L252.84,148.04 L253.01,148.03 L253.18,148.01 L253.35,147.98 L253.52,147.95 L253.69,147.91 L253.86,147.86 L254.03,147.81 L254.20,147.75 L254.36,147.68 L254.53,147.61 L254.70,147.52 L254.87,147.43 L255.04,147.34 L255.21,147.23 L255.38,147.12 L255.55,146.99 L255.72,146.87 L255.89,146.73 L256.05,146.58 L256.22,146.43 L256.39,146.27 L256.56,146.11 L256.73,145.94 L256.90,145.76 L257.07,145.58 L257.24,145.39 L257.41,145.20 L257.57,145.01 L257.74,144.82 L257.91,144.63 L258.08,144.45 L258.25,144.27 L258.42,144.10 L258.59,143.94 L258.76,143.79 L258.93,143.66 L259.10,143.54 L259.26,143.45 L259.43,143.38 L259.60,143.33 L259.77,143.30 L259.94,143.31 L260.11,143.34 L260.28,143.39 L260.45,143.47 L260.62,143.58 L260.79,143.70 L260.95,143.84 L261.12,144.00 L261.29,144.18 L261.46,144.36 L261.63,144.56 L261.80,144.76 L261.97,144.97 L262.14,145.18 L262.31,145.39 L262.48,145.60 L262.64,145.80 L262.81,146.01 L262.98,146.21 L263.15,146.41 L263.32,146.60 L263.49,146.78 L263.66,146.96 L263.83,147.13 L264.00,147.30 L264.17,147.45 L264.33,147.60 L264.50,147.75 L264.67,147.88 L264.84,148.01 L265.01,148.14 L265.18,148.25 L265.35,148.36 L265.52,148.46 L265.69,148.56 L265.85,148.65 L266.02,148.73 L266.19,148.81 L266.36,148.89 L266.53,148.96 L266.70,149.02 L266.87,149.08 L267.04,149.14 L267.21,149.19 L267.38,149.24 L267.54,149.29 L267.71,149.33 L267.88,149.37 L268.05,149.41 L268.22,149.44 L268.39,149.47 L268.56,149.51 L268.73,149.53 L268.90,149.56 L269.07,149.59 L269.23,149.61 L269.40,149.63 L269.57,149.65 L269.74,149.67 L269.91,149.69 L270.08,149.71 L270.25,149.73 L270.42,149.75 L270.59,149.76 L270.76,149.78 L270.92,149.79 L271.09,149.80 L271.26,149.82 L271.43,149.83 L271.60,149.84" stroke="#f00" stroke-width="1.9" fill="none" stroke-linejoin="round" stroke-linecap="round" />
<path d="M52.10,189.39 L52.27,188.53 L52.44,188.73 L52.61,188.88 L52.78,188.40 L52.94,188.72 L53.11,188.71 L53.28,188.01 L53.45,189.12 L53.62,188.95 L53.79,188.46 L53.96,188.64 L54.13,188.91 L54.30,188.60 L54.47,188.61 L54.63,188.13 L54.80,188.93 L54.97,188.75 L55.14,188.81 L55.31,188.09 L55.48,189.36 L55.65,188.76 L55.82,188.55 L55.99,189.51 L56.16,188.68 L56.32,188.12 L56.49,188.53 L56.66,187.78 L56.83,189.11 L57.00,188.53 L57.17,188.40 L57.34,189.12 L57.51,188.03 L57.68,188.90 L57.85,187.86 L58.01,188.42 L58.18,188.20 L58.35,189.27 L58.52,189.39 L58.69,188.55 L58.86,189.02 L59.03,188.61 L59.20,188.91 L59.37,188.38 L59.53,187.99 L59.70,187.95 L59.87,188.83 L60.04,189.57 L60.21,188.78 L60.38,188.46 L60.55,189.43 L60.72,188.76 L60.89,188.70 L61.06,188.76 L61.22,188.61 L61.39,188.54 L61.56,188.08 L61.73,188.86 L61.90,188.62 L62.07,189.13 L62.24,188.50 L62.41,187.89 L62.58,188.61 L62.75,189.32 L62.91,188.49 L63.08,188.29 L63.25,188.16 L63.42,188.22 L63.59,188.51 L63.76,188.16 L63.93,189.23 L64.10,188.52 L64.27,188.67 L64.44,189.20 L64.60,189.22 L64.77,188.53 L64.94,188.75 L65.11,188.91 L65.28,188.53 L65.45,187.90 L65.62,188.87 L65.79,188.96 L65.96,188.77 L66.13,188.23 L66.29,188.52 L66.46,188.36 L66.63,188.47 L66.80,189.10 L66.97,189.19 L67.14,188.85 L67.31,188.80 L67.48,188.84 L67.65,188.56 L67.81,188.54 L67.98,188.29 L68.15,188.54 L68.32,189.46 L68.49,188.90 L68.66,188.41 L68.83,188.35 L69.00,188.19 L69.17,188.68 L69.34,188.69 L69.50,187.95 L69.67,188.72 L69.84,188.29 L70.01,189.08 L70.18,188.57 L70.35,189.19 L70.52,188.31 L70.69,188.37 L70.86,188.60 L71.03,188.90 L71.19,188.70 L71.36,187.97 L71.53,188.53 L71.70,188.46 L71.87,188.28 L72.04,188.18 L72.21,189.13 L72.38,188.27 L72.55,188.08 L72.72,188.66 L72.88,188.45 L73.05,188.36 L73.22,188.70 L73.39,188.57 L73.56,188.51 L73.73,188.74 L73.90,188.46 L74.07,188.09 L74.24,188.18 L74.40,188.11 L74.57,188.39 L74.74,187.86 L74.91,187.55 L75.08,188.31 L75.25,187.72 L75.42,187.46 L75.59,188.38 L75.76,187.93 L75.93,188.40 L76.09,187.97 L76.26,187.72 L76.43,187.65 L76.60,187.93 L76.77,188.01 L76.94,187.77 L77.11,187.96 L77.28,187.44 L77.45,188.04 L77.62,187.29 L77.78,187.91 L77.95,188.24 L78.12,188.37 L78.29,188.60 L78.46,187.26 L78.63,188.16 L78.80,188.30 L78.97,188.18 L79.14,187.38 L79.31,187.88 L79.47,188.42 L79.64,187.04 L79.81,187.79 L79.98,188.00 L80.15,187.22 L80.32,187.69 L80.49,186.97 L80.66,187.02 L80.83,186.96 L80.99,187.30 L81.16,187.11 L81.33,187.46 L81.50,186.62 L81.67,186.86 L81.84,187.21 L82.01,186.95 L82.18,186.09 L82.35,186.77 L82.52,186.19 L82.68,186.39 L82.85,186.20 L83.02,186.38 L83.19,185.73 L83.36,184.71 L83.53,184.62 L83.70,185.13 L83.87,184.34 L84.04,184.43 L84.21,183.52 L84.37,182.43 L84.54,182.35 L84.71,180.61 L84.88,178.94 L85.05,179.20 L85.22,175.97 L85.39,175.07 L85.56,172.97 L85.73,170.10 L85.90,166.47 L86.06,164.29 L86.23,159.71 L86.40,155.81 L86.57,151.95 L86.74,147.89 L86.91,142.97 L87.08,138.32 L87.25,132.95 L87.42,128.27 L87.58,123.34 L87.75,119.51 L87.92,116.28 L88.09,113.06 L88.26,111.39 L88.43,110.00 L88.60,110.08 L88.77,111.48 L88.94,113.51 L89.11,116.82 L89.27,120.35 L89.44,125.21 L89.61,129.02 L89.78,133.82 L89.95,138.37 L90.12,143.63 L90.29,148.59 L90.46,152.50 L90.63,156.97 L90.80,161.17 L90.96,164.37 L91.13,167.41 L91.30,170.84 L91.47,172.99 L91.64,175.28 L91.81,177.46 L91.98,179.04 L92.15,179.79 L92.32,180.86 L92.49,182.13 L92.65,182.75 L92.82,182.70 L92.99,184.52 L93.16,184.47 L93.33,185.14 L93.50,184.69 L93.67,185.95 L93.84,185.43 L94.01,185.82 L94.18,185.48 L94.34,186.12 L94.51,186.24 L94.68,186.38 L94.85,186.74 L95.02,186.69 L95.19,187.15 L95.36,186.66 L95.53,186.53 L95.70,186.99 L95.86,187.32 L96.03,187.63 L96.20,187.52 L96.37,186.55 L96.54,187.45 L96.71,187.94 L96.88,187.43 L97.05,187.24 L97.22,187.61 L97.39,187.32 L97.55,187.82 L97.72,187.59 L97.89,188.18 L98.06,187.86 L98.23,187.39 L98.40,187.95 L98.57,188.11 L98.74,187.53 L98.91,187.61 L99.08,186.88 L99.24,188.18 L99.41,187.60 L99.58,187.01 L99.75,187.16 L99.92,187.80 L100.09,188.20 L100.26,187.87 L100.43,188.11 L100.60,187.49 L100.77,187.40 L100.93,188.30 L101.10,188.15 L101.27,187.95 L101.44,188.48 L101.61,187.59 L101.78,187.81 L101.95,188.39 L102.12,188.72 L102.29,187.98 L102.45,188.65 L102.62,187.74 L102.79,188.11 L102.96,187.90 L103.13,187.33 L103.30,188.07 L103.47,188.33 L103.64,187.89 L103.81,187.91 L103.98,188.49 L104.14,187.42 L104.31,187.31 L104.48,187.63 L104.65,187.39 L104.82,188.39 L104.99,187.96 L105.16,187.47 L105.33,187.54 L105.50,188.90 L105.67,187.49 L105.83,187.39 L106.00,187.78 L106.17,187.87 L106.34,187.66 L106.51,187.16 L106.68,187.00 L106.85,187.63 L107.02,187.29 L107.19,186.56 L107.36,187.58 L107.52,187.29 L107.69,186.72 L107.86,186.52 L108.03,186.48 L108.20,185.82 L108.37,185.20 L108.54,185.44 L108.71,184.22 L108.88,184.34 L109.04,182.87 L109.21,182.54 L109.38,181.52 L109.55,181.14 L109.72,178.69 L109.89,177.08 L110.06,175.76 L110.23,173.81 L110.40,172.13 L110.57,170.55 L110.73,168.65 L110.90,166.94 L111.07,163.96 L111.24,163.40 L111.41,161.41 L111.58,159.06 L111.75,157.10 L111.92,157.26 L112.09,157.06 L112.26,156.32 L112.42,157.94 L112.59,158.92 L112.76,160.13 L112.93,162.40 L113.10,164.45 L113.27,165.87 L113.44,168.22 L113.61,169.92 L113.78,171.87 L113.95,174.12 L114.11,176.08 L114.28,177.29 L114.45,178.13 L114.62,180.58 L114.79,180.89 L114.96,182.60 L115.13,184.15 L115.30,184.18 L115.47,184.35 L115.64,184.77 L115.80,186.27 L115.97,186.16 L116.14,186.68 L116.31,187.09 L116.48,186.90 L116.65,186.97 L116.82,186.86 L116.99,186.12 L117.16,186.85 L117.32,187.51 L117.49,187.55 L117.66,187.85 L117.83,187.69 L118.00,187.86 L118.17,188.16 L118.34,187.54 L118.51,187.82 L118.68,187.33 L118.85,188.39 L119.01,188.05 L119.18,188.26 L119.35,188.71 L119.52,188.55 L119.69,188.12 L119.86,188.48 L120.03,187.62 L120.20,188.39 L120.37,188.29 L120.54,187.60 L120.70,188.80 L120.87,188.00 L121.04,188.57 L121.21,188.15 L121.38,188.73 L121.55,188.87 L121.72,188.03 L121.89,187.76 L122.06,188.33 L122.23,188.73 L122.39,188.26 L122.56,188.17 L122.73,188.62 L122.90,187.33 L123.07,188.18 L123.24,187.90 L123.41,188.58 L123.58,188.17 L123.75,188.03 L123.91,188.34 L124.08,187.90 L124.25,188.49 L124.42,188.23 L124.59,188.36 L124.76,188.23 L124.93,188.89 L125.10,188.48 L125.27,188.74 L125.44,188.73 L125.60,188.22 L125.77,188.78 L125.94,188.69 L126.11,188.68 L126.28,188.40 L126.45,188.39 L126.62,188.88 L126.79,189.45 L126.96,188.25 L127.13,188.80 L127.29,188.44 L127.46,188.90 L127.63,188.77 L127.80,189.02 L127.97,187.48 L128.14,188.36 L128.31,188.21 L128.48,188.56 L128.65,188.32 L128.82,188.36 L128.98,188.89 L129.15,189.38 L129.32,187.49 L129.49,188.50 L129.66,188.75 L129.83,188.63 L130.00,188.49 L130.17,188.09 L130.34,188.26 L130.50,188.93 L130.67,189.07 L130.84,188.68 L131.01,188.31 L131.18,188.68 L131.35,188.55 L131.52,188.87 L131.69,188.70 L131.86,188.40 L132.03,188.73 L132.19,188.19 L132.36,188.99 L132.53,189.13 L132.70,188.19 L132.87,188.83 L133.04,188.27 L133.21,189.09 L133.38,189.03 L133.55,188.58 L133.72,189.07 L133.88,188.50 L134.05,188.42 L134.22,188.45 L134.39,188.62 L134.56,188.55 L134.73,188.74 L134.90,188.43 L135.07,188.99 L135.24,189.09 L135.41,188.48 L135.57,188.11 L135.74,188.97 L135.91,189.14 L136.08,188.62 L136.25,188.17 L136.42,188.80 L136.59,189.30 L136.76,187.94 L136.93,188.88 L137.09,188.57 L137.26,188.35 L137.43,188.89 L137.60,188.18 L137.77,188.82 L137.94,189.22 L138.11,188.77 L138.28,188.35 L138.45,187.99 L138.62,188.19 L138.78,187.96 L138.95,189.34 L139.12,188.60 L139.29,188.29 L139.46,188.18 L139.63,188.28 L139.80,188.57 L139.97,188.19 L140.14,189.38 L140.31,188.41 L140.47,188.39 L140.64,188.83 L140.81,189.29 L140.98,189.24 L141.15,188.51 L141.32,188.81 L141.49,188.77 L141.66,188.92 L141.83,188.81 L142.00,188.34 L142.16,188.21 L142.33,188.78 L142.50,188.24 L142.67,189.26 L142.84,188.73 L143.01,188.31 L143.18,188.59 L143.35,188.51 L143.52,188.66 L143.69,189.10 L143.85,188.14 L144.02,187.97 L144.19,188.85 L144.36,188.65 L144.53,188.78 L144.70,188.90 L144.87,188.65 L145.04,189.04 L145.21,188.36 L145.37,188.75 L145.54,188.39 L145.71,188.27 L145.88,188.97 L146.05,188.95 L146.22,187.95 L146.39,188.27 L146.56,188.84 L146.73,189.15 L146.90,188.46 L147.06,188.65 L147.23,188.16 L147.40,189.73 L147.57,188.92 L147.74,189.08 L147.91,188.99 L148.08,189.10 L148.25,188.97 L148.42,188.59 L148.59,189.02 L148.75,188.76 L148.92,189.25 L149.09,188.43 L149.26,188.51 L149.43,188.99 L149.60,189.24 L149.77,188.79 L149.94,188.44 L150.11,188.68 L150.28,188.53 L150.44,189.49 L150.61,189.09 L150.78,189.23 L150.95,188.85 L151.12,188.51 L151.29,189.20 L151.46,189.39 L151.63,188.96 L151.80,188.72 L151.96,189.16 L152.13,188.58 L152.30,189.04 L152.47,188.45 L152.64,188.34 L152.81,188.96 L152.98,188.87 L153.15,189.49 L153.32,188.62 L153.49,188.74 L153.65,188.27 L153.82,187.98 L153.99,188.02 L154.16,188.92 L154.33,188.26 L154.50,189.18 L154.67,189.30 L154.84,188.62 L155.01,189.39 L155.18,188.82 L155.34,189.18 L155.51,188.64 L155.68,189.11 L155.85,188.35 L156.02,188.98 L156.19,188.55 L156.36,188.68 L156.53,188.98 L156.70,188.80 L156.87,188.70 L157.03,189.02 L157.20,189.05 L157.37,188.18 L157.54,188.95 L157.71,189.00 L157.88,188.43 L158.05,188.88 L158.22,188.20 L158.39,189.30 L158.55,188.63 L158.72,188.70 L158.89,189.21 L159.06,188.67 L159.23,188.97 L159.40,188.31 L159.57,188.50 L159.74,188.17 L159.91,188.64 L160.08,189.14 L160.24,188.82 L160.41,189.08 L160.58,188.32 L160.75,188.37 L160.92,188.54 L161.09,188.95 L161.26,188.87 L161.43,188.72 L161.60,188.97 L161.77,188.66 L161.93,188.72 L162.10,189.25 L162.27,188.49 L162.44,188.80 L162.61,189.37 L162.78,188.76 L162.95,189.00 L163.12,188.48 L163.29,189.50 L163.46,187.82 L163.62,188.27 L163.79,188.30 L163.96,189.37 L164.13,188.86 L164.30,188.61 L164.47,188.21 L164.64,188.86 L164.81,188.76 L164.98,188.44 L165.15,188.12 L165.31,188.27 L165.48,188.80 L165.65,188.84 L165.82,188.74 L165.99,188.65 L166.16,188.00 L166.33,188.73 L166.50,188.30 L166.67,188.73 L166.83,188.90 L167.00,188.44 L167.17,188.30 L167.34,189.10 L167.51,188.85 L167.68,188.45 L167.85,187.50 L168.02,188.68 L168.19,188.95 L168.36,189.15 L168.52,188.43 L168.69,188.44 L168.86,188.52 L169.03,189.03 L169.20,188.23 L169.37,188.65 L169.54,188.32 L169.71,188.80 L169.88,188.07 L170.05,188.84 L170.21,188.49 L170.38,188.60 L170.55,188.90 L170.72,189.14 L170.89,188.01 L171.06,189.09 L171.23,188.91 L171.40,188.56 L171.57,189.24 L171.74,188.75 L171.90,189.19 L172.07,188.44 L172.24,188.33 L172.41,189.16 L172.58,189.53 L172.75,188.92 L172.92,189.02 L173.09,188.47 L173.26,188.13 L173.42,188.57 L173.59,189.26 L173.76,187.91 L173.93,188.45 L174.10,187.88 L174.27,188.69 L174.44,188.99 L174.61,188.15 L174.78,188.48 L174.95,189.17 L175.11,188.60 L175.28,188.14 L175.45,188.10 L175.62,187.82 L175.79,188.93 L175.96,188.32 L176.13,189.03 L176.30,188.96 L176.47,188.34 L176.64,188.39 L176.80,188.91 L176.97,188.65 L177.14,188.70 L177.31,187.93 L177.48,188.94 L177.65,188.23 L177.82,187.66 L177.99,188.32 L178.16,188.73 L178.33,189.39 L178.49,188.40 L178.66,188.01 L178.83,189.38 L179.00,188.59 L179.17,188.41 L179.34,188.08 L179.51,188.10 L179.68,189.09 L179.85,188.38 L180.01,188.26 L180.18,188.26 L180.35,189.08 L180.52,188.21 L180.69,188.69 L180.86,188.53 L181.03,188.51 L181.20,188.05 L181.37,188.65 L181.54,189.01 L181.70,188.33 L181.87,187.97 L182.04,187.80 L182.21,188.38 L182.38,188.17 L182.55,188.22 L182.72,188.24 L182.89,187.62 L183.06,188.50 L183.23,188.25 L183.39,188.10 L183.56,188.18 L183.73,188.42 L183.90,188.03 L184.07,187.62 L184.24,188.37 L184.41,187.67 L184.58,187.48 L184.75,187.06 L184.92,187.59 L185.08,187.06 L185.25,187.14 L185.42,187.37 L185.59,187.03 L185.76,187.21 L185.93,186.69 L186.10,186.13 L186.27,185.84 L186.44,185.40 L186.61,185.45 L186.77,184.74 L186.94,184.04 L187.11,183.97 L187.28,183.03 L187.45,182.12 L187.62,180.95 L187.79,180.93 L187.96,180.01 L188.13,179.05 L188.29,177.94 L188.46,176.86 L188.63,176.17 L188.80,175.45 L188.97,174.44 L189.14,173.63 L189.31,172.78 L189.48,172.50 L189.65,172.00 L189.82,171.30 L189.98,171.78 L190.15,171.84 L190.32,172.08 L190.49,172.10 L190.66,172.63 L190.83,172.91 L191.00,174.45 L191.17,174.14 L191.34,175.73 L191.51,176.67 L191.67,178.08 L191.84,178.65 L192.01,179.16 L192.18,179.84 L192.35,180.94 L192.52,182.04 L192.69,182.74 L192.86,183.30 L193.03,183.70 L193.20,184.44 L193.36,185.41 L193.53,185.00 L193.70,185.84 L193.87,186.81 L194.04,186.68 L194.21,186.53 L194.38,187.19 L194.55,186.82 L194.72,187.29 L194.88,188.04 L195.05,188.30 L195.22,186.96 L195.39,188.01 L195.56,188.59 L195.73,187.66 L195.90,188.04 L196.07,188.59 L196.24,187.83 L196.41,188.25 L196.57,188.08 L196.74,187.37 L196.91,188.31 L197.08,188.12 L197.25,188.59 L197.42,189.08 L197.59,188.54 L197.76,188.14 L197.93,188.49 L198.10,188.41 L198.26,188.75 L198.43,187.78 L198.60,187.91 L198.77,187.57 L198.94,188.64 L199.11,188.40 L199.28,188.17 L199.45,188.15 L199.62,188.22 L199.79,188.09 L199.95,188.34 L200.12,188.28 L200.29,189.04 L200.46,188.62 L200.63,188.17 L200.80,188.27 L200.97,189.00 L201.14,188.70 L201.31,188.65 L201.47,188.82 L201.64,189.18 L201.81,188.06 L201.98,188.25 L202.15,187.86 L202.32,188.76 L202.49,188.42 L202.66,188.30 L202.83,188.27 L203.00,188.86 L203.16,188.53 L203.33,188.38 L203.50,189.10 L203.67,188.18 L203.84,188.10 L204.01,189.64 L204.18,188.46 L204.35,188.39 L204.52,188.32 L204.69,188.56 L204.85,188.93 L205.02,188.92 L205.19,188.84 L205.36,188.52 L205.53,188.03 L205.70,188.75 L205.87,189.24 L206.04,189.07 L206.21,188.57 L206.38,188.96 L206.54,188.49 L206.71,188.62 L206.88,188.15 L207.05,188.52 L207.22,188.71 L207.39,188.58 L207.56,188.96 L207.73,189.41 L207.90,189.19 L208.06,188.54 L208.23,188.37 L208.40,188.40 L208.57,188.27 L208.74,188.68 L208.91,188.83 L209.08,188.74 L209.25,188.74 L209.42,188.73 L209.59,188.62 L209.75,188.37 L209.92,189.36 L210.09,189.09 L210.26,188.31 L210.43,188.31 L210.60,188.44 L210.77,188.69 L210.94,189.18 L211.11,189.08 L211.28,189.10 L211.44,189.11 L211.61,189.12 L211.78,188.97 L211.95,188.86 L212.12,188.63 L212.29,187.98 L212.46,188.63 L212.63,189.40 L212.80,188.46 L212.97,188.43 L213.13,189.09 L213.30,188.71 L213.47,188.49 L213.64,189.30 L213.81,188.93 L213.98,188.98 L214.15,188.46 L214.32,188.88 L214.49,188.83 L214.66,188.99 L214.82,189.14 L214.99,189.13 L215.16,188.75 L215.33,188.96 L215.50,188.22 L215.67,188.94 L215.84,188.95 L216.01,188.52 L216.18,188.37 L216.34,188.66 L216.51,188.19 L216.68,188.82 L216.85,188.80 L217.02,188.30 L217.19,188.70 L217.36,189.10 L217.53,189.10 L217.70,189.08 L217.87,188.62 L218.03,188.54 L218.20,188.52 L218.37,188.91 L218.54,189.61 L218.71,189.23 L218.88,189.31 L219.05,189.21 L219.22,188.02 L219.39,188.59 L219.56,188.49 L219.72,189.17 L219.89,189.34 L220.06,188.40 L220.23,188.68 L220.40,188.89 L220.57,188.47 L220.74,188.41 L220.91,188.39 L221.08,189.01 L221.25,188.29 L221.41,189.11 L221.58,188.69 L221.75,188.95 L221.92,189.27 L222.09,188.38 L222.26,188.32 L222.43,188.82 L222.60,188.23 L222.77,188.35 L222.93,188.59 L223.10,188.70 L223.27,188.14 L223.44,188.48 L223.61,188.86 L223.78,189.17 L223.95,187.84 L224.12,189.15 L224.29,188.97 L224.46,188.19 L224.62,188.03 L224.79,188.78 L224.96,188.44 L225.13,188.66 L225.30,188.95 L225.47,188.45 L225.64,188.66 L225.81,188.78 L225.98,188.95 L226.15,189.29 L226.31,189.26 L226.48,188.68 L226.65,188.48 L226.82,189.52 L226.99,188.82 L227.16,188.73 L227.33,188.12 L227.50,188.86 L227.67,188.24 L227.84,188.36 L228.00,188.01 L228.17,188.32 L228.34,188.55 L228.51,187.92 L228.68,188.16 L228.85,188.47 L229.02,188.00 L229.19,187.99 L229.36,188.15 L229.52,187.91 L229.69,188.71 L229.86,188.06 L230.03,188.75 L230.20,188.81 L230.37,187.95 L230.54,188.43 L230.71,188.21 L230.88,187.94 L231.05,188.25 L231.21,188.27 L231.38,188.64 L231.55,188.75 L231.72,187.89 L231.89,188.15 L232.06,188.50 L232.23,188.74 L232.40,187.28 L232.57,188.74 L232.74,188.14 L232.90,188.80 L233.07,187.99 L233.24,187.80 L233.41,188.12 L233.58,188.54 L233.75,188.05 L233.92,187.05 L234.09,188.22 L234.26,187.26 L234.43,187.46 L234.59,187.32 L234.76,186.98 L234.93,187.13 L235.10,187.14 L235.27,187.18 L235.44,187.27 L235.61,187.01 L235.78,186.39 L235.95,186.71 L236.12,186.95 L236.28,186.68 L236.45,186.06 L236.62,185.92 L236.79,185.65 L236.96,185.41 L237.13,185.07 L237.30,183.74 L237.47,183.19 L237.64,183.25 L237.80,182.61 L237.97,181.87 L238.14,179.53 L238.31,179.56 L238.48,177.49 L238.65,178.21 L238.82,177.04 L238.99,176.14 L239.16,175.18 L239.33,174.89 L239.49,173.45 L239.66,173.24 L239.83,172.40 L240.00,171.79 L240.17,171.44 L240.34,171.06 L240.51,170.50 L240.68,171.31 L240.85,171.56 L241.02,171.61 L241.18,172.50 L241.35,173.21 L241.52,173.08 L241.69,174.35 L241.86,175.08 L242.03,175.79 L242.20,177.18 L242.37,177.60 L242.54,178.65 L242.71,179.77 L242.87,180.63 L243.04,181.39 L243.21,182.88 L243.38,182.47 L243.55,183.39 L243.72,183.38 L243.89,184.58 L244.06,185.31 L244.23,185.76 L244.39,185.39 L244.56,185.86 L244.73,186.77 L244.90,186.48 L245.07,187.12 L245.24,186.54 L245.41,187.65 L245.58,187.65 L245.75,187.55 L245.92,187.15 L246.08,187.50 L246.25,187.70 L246.42,187.82 L246.59,187.73 L246.76,187.73 L246.93,187.94 L247.10,188.47 L247.27,187.14 L247.44,187.43 L247.61,187.38 L247.77,187.75 L247.94,187.35 L248.11,188.29 L248.28,188.13 L248.45,188.00 L248.62,187.84 L248.79,188.19 L248.96,188.21 L249.13,188.28 L249.30,187.86 L249.46,188.42 L249.63,187.58 L249.80,188.67 L249.97,186.94 L250.14,187.93 L250.31,187.68 L250.48,188.47 L250.65,187.55 L250.82,188.86 L250.98,187.50 L251.15,188.91 L251.32,188.25 L251.49,188.05 L251.66,188.18 L251.83,188.84 L252.00,188.27 L252.17,186.96 L252.34,188.27 L252.51,187.81 L252.67,186.99 L252.84,187.85 L253.01,186.96 L253.18,187.41 L253.35,187.31 L253.52,186.82 L253.69,187.20 L253.86,186.37 L254.03,186.69 L254.20,186.22 L254.36,186.18 L254.53,186.83 L254.70,185.91 L254.87,185.22 L255.04,185.41 L255.21,184.94 L255.38,185.05 L255.55,184.90 L255.72,184.68 L255.89,184.50 L256.05,184.09 L256.22,184.34 L256.39,184.46 L256.56,183.70 L256.73,183.87 L256.90,183.89 L257.07,184.37 L257.24,184.34 L257.41,183.69 L257.57,184.11 L257.74,183.61 L257.91,183.98 L258.08,184.54 L258.25,184.98 L258.42,185.31 L258.59,185.01 L258.76,184.80 L258.93,185.72 L259.10,185.70 L259.26,186.15 L259.43,186.25 L259.60,186.67 L259.77,186.83 L259.94,187.09 L260.11,186.73 L260.28,187.48 L260.45,187.03 L260.62,187.40 L260.79,188.24 L260.95,187.75 L261.12,187.25 L261.29,188.41 L261.46,188.30 L261.63,188.43 L261.80,188.13 L261.97,188.25 L262.14,188.07 L262.31,187.94 L262.48,188.87 L262.64,188.15 L262.81,188.14 L262.98,188.19 L263.15,189.13 L263.32,188.76 L263.49,188.29 L263.66,188.44 L263.83,188.67 L264.00,188.84 L264.17,187.86 L264.33,188.87 L264.50,188.44 L264.67,188.26 L264.84,188.39 L265.01,188.87 L265.18,189.26 L265.35,188.63 L265.52,188.80 L265.69,188.26 L265.85,188.78 L266.02,188.92 L266.19,188.00 L266.36,188.40 L266.53,188.93 L266.70,187.91 L266.87,188.47 L267.04,188.86 L267.21,187.95 L267.38,188.47 L267.54,188.66 L267.71,189.00 L267.88,188.13 L268.05,189.09 L268.22,188.77 L268.39,189.13 L268.56,189.12 L268.73,188.80 L268.90,188.86 L269.07,187.97 L269.23,188.13 L269.40,188.27 L269.57,188.53 L269.74,189.05 L269.91,187.96 L270.08,188.55 L270.25,188.15 L270.42,188.06 L270.59,189.28 L270.76,188.73 L270.92,189.34 L271.09,189.17 L271.26,188.33 L271.43,187.95 L271.60,189.53" stroke="#00f" stroke-width="2.1" fill="none" stroke-linejoin="round" stroke-linecap="round" />
</g>
<path d="M47.5,11.6 H271.6 V193.5" stroke="#000" stroke-width="1.5" fill="none"/>
<path d="M52.1,11.6 V193.5 M47.5,189.2 H271.6" stroke="#000" stroke-width="1.6" fill="none"/>
<path d="M47.50,11.60 H52.1 M49.50,21.47 H52.1 M47.50,31.33 H52.1 M49.50,41.20 H52.1 M47.50,51.07 H52.1 M49.50,60.93 H52.1 M47.50,70.80 H52.1 M49.50,80.67 H52.1 M47.50,90.53 H52.1 M49.50,100.40 H52.1 M47.50,110.27 H52.1 M49.50,120.13 H52.1 M47.50,130.00 H52.1 M49.50,139.87 H52.1 M47.50,149.73 H52.1 M49.50,159.60 H52.1 M47.50,169.47 H52.1 M49.50,179.33 H52.1 M47.50,189.20 H52.1 " stroke="#000" stroke-width="1.3" fill="none"/>
<path d="M52.10,189.2 v4.3 M61.25,189.2 v2.3 M70.39,189.2 v2.3 M79.54,189.2 v2.3 M88.68,189.2 v4.3 M97.83,189.2 v2.3 M106.98,189.2 v2.3 M116.12,189.2 v2.3 M125.27,189.2 v4.3 M134.41,189.2 v2.3 M143.56,189.2 v2.3 M152.70,189.2 v2.3 M161.85,189.2 v4.3 M171.00,189.2 v2.3 M180.14,189.2 v2.3 M189.29,189.2 v2.3 M198.43,189.2 v4.3 M207.58,189.2 v2.3 M216.73,189.2 v2.3 M225.87,189.2 v2.3 M235.02,189.2 v4.3 M244.16,189.2 v2.3 M253.31,189.2 v2.3 M262.45,189.2 v2.3 M271.60,189.2 v4.3 " stroke="#000" stroke-width="1.3" fill="none"/>
<text x="52.10" y="203.40" font-size="9.0" font-weight="bold" fill="#000" text-anchor="middle" font-family='"Liberation Sans", Arial, sans-serif' >30</text>
<text x="88.68" y="203.40" font-size="9.0" font-weight="bold" fill="#000" text-anchor="middle" font-family='"Liberation Sans", Arial, sans-serif' >40</text>
<text x="125.27" y="203.40" font-size="9.0" font-weight="bold" fill="#000" text-anchor="middle" font-family='"Liberation Sans", Arial, sans-serif' >50</text>
<text x="161.85" y="203.40" font-size="9.0" font-weight="bold" fill="#000" text-anchor="middle" font-family='"Liberation Sans", Arial, sans-serif' >60</text>
<text x="198.43" y="203.40" font-size="9.0" font-weight="bold" fill="#000" text-anchor="middle" font-family='"Liberation Sans", Arial, sans-serif' >70</text>
<text x="235.02" y="203.40" font-size="9.0" font-weight="bold" fill="#000" text-anchor="middle" font-family='"Liberation Sans", Arial, sans-serif' >80</text>
<text x="271.60" y="203.40" font-size="9.0" font-weight="bold" fill="#000" text-anchor="middle" font-family='"Liberation Sans", Arial, sans-serif' >90</text>
<text x="127.50" y="220.00" font-size="12.0" font-weight="bold" fill="#000" text-anchor="start" font-family='"Liberation Sans", Arial, sans-serif' >2<tspan x="135.0" font-size="9.6">θ</tspan><tspan x="140.4" font-size="11.8"> (degrees)</tspan></text>
<text x="0.00" y="0.00" font-size="12.5" font-weight="bold" fill="#000" text-anchor="middle" font-family='"Liberation Sans", Arial, sans-serif' transform="translate(32.4,108.3) rotate(-90)">Intensity (a.u.)</text>
<text x="18.80" y="20.30" font-size="17.2" font-weight="bold" fill="#000" text-anchor="start" font-family='"Liberation Sans", Arial, sans-serif' textLength="20.40" lengthAdjust="spacingAndGlyphs" >(a)</text>
<text x="73.60" y="27.50" font-size="13.6" font-weight="bold" fill="#000" text-anchor="start" font-family='"Liberation Sans", Arial, sans-serif' textLength="29.60" lengthAdjust="spacingAndGlyphs" >(111)</text>
<text x="97.60" y="69.20" font-size="13.6" font-weight="bold" fill="#000" text-anchor="start" font-family='"Liberation Sans", Arial, sans-serif' textLength="29.40" lengthAdjust="spacingAndGlyphs" >(200)</text>
<text x="175.40" y="84.60" font-size="13.6" font-weight="bold" fill="#000" text-anchor="start" font-family='"Liberation Sans", Arial, sans-serif' textLength="30.00" lengthAdjust="spacingAndGlyphs" >(220)</text>
<text x="225.50" y="82.00" font-size="13.6" font-weight="bold" fill="#000" text-anchor="start" font-family='"Liberation Sans", Arial, sans-serif' textLength="29.60" lengthAdjust="spacingAndGlyphs" >(311)</text>
<path d="M221.4,21.35 H241.7" stroke="#000" stroke-width="1.7"/>
<text x="243.60" y="24.05" font-size="9.9" font-weight="bold" fill="#000" text-anchor="start" font-family='"Liberation Sans", Arial, sans-serif' >Pt</text>
<path d="M221.4,33.80 H241.7" stroke="#f00" stroke-width="1.7"/>
<text x="243.60" y="36.50" font-size="9.9" font-weight="bold" fill="#000" text-anchor="start" font-family='"Liberation Sans", Arial, sans-serif' >Pd</text>
<path d="M221.4,46.25 H241.7" stroke="#00f" stroke-width="1.7"/>
<text x="243.60" y="48.95" font-size="9.9" font-weight="bold" fill="#000" text-anchor="start" font-family='"Liberation Sans", Arial, sans-serif' >PdPt</text>
<g clip-path="url(#clipB)">
<path d="M319.40,98.60 L319.73,98.42 L320.06,98.23 L320.39,98.04 L320.72,97.85 L321.05,97.65 L321.38,97.44 L321.71,97.23 L322.03,97.01 L322.36,96.79 L322.69,96.56 L323.02,96.32 L323.35,96.08 L323.68,95.83 L324.01,95.58 L324.34,95.32 L324.67,95.05 L325.00,94.77 L325.33,94.49 L325.66,94.20 L325.99,93.90 L326.32,93.60 L326.65,93.29 L326.97,92.97 L327.30,92.64 L327.63,92.30 L327.96,91.96 L328.29,91.60 L328.62,91.24 L328.95,90.87 L329.28,90.50 L329.61,90.11 L329.94,89.71 L330.27,89.31 L330.60,88.89 L330.93,88.47 L331.26,88.04 L331.59,87.60 L331.92,87.15 L332.24,86.69 L332.57,86.22 L332.90,85.74 L333.23,85.25 L333.56,84.75 L333.89,84.24 L334.22,83.73 L334.55,83.20 L334.88,82.66 L335.21,82.12 L335.54,81.56 L335.87,81.00 L336.20,80.42 L336.53,79.84 L336.86,79.25 L337.18,78.64 L337.51,78.03 L337.84,77.41 L338.17,76.79 L338.50,76.15 L338.83,75.50 L339.16,74.85 L339.49,74.19 L339.82,73.52 L340.15,72.84 L340.48,72.15 L340.81,71.46 L341.14,70.76 L341.47,70.06 L341.80,69.35 L342.12,68.63 L342.45,67.91 L342.78,67.18 L343.11,66.45 L343.44,65.72 L343.77,64.98 L344.10,64.24 L344.43,63.50 L344.76,62.75 L345.09,62.01 L345.42,61.26 L345.75,60.52 L346.08,59.78 L346.41,59.04 L346.74,58.30 L347.06,57.56 L347.39,56.84 L347.72,56.11 L348.05,55.40 L348.38,54.69 L348.71,53.99 L349.04,53.30 L349.37,52.62 L349.70,51.95 L350.03,51.30 L350.36,50.66 L350.69,50.04 L351.02,49.43 L351.35,48.85 L351.68,48.28 L352.01,47.73 L352.33,47.20 L352.66,46.70 L352.99,46.22 L353.32,45.77 L353.65,45.34 L353.98,44.94 L354.31,44.57 L354.64,44.23 L354.97,43.92 L355.30,43.64 L355.63,43.39 L355.96,43.18 L356.29,43.00 L356.62,42.85 L356.95,42.73 L357.27,42.65 L357.60,42.61 L357.93,42.60 L358.26,42.62 L358.59,42.68 L358.92,42.78 L359.25,42.91 L359.58,43.07 L359.91,43.26 L360.24,43.49 L360.57,43.75 L360.90,44.04 L361.23,44.37 L361.56,44.72 L361.89,45.10 L362.21,45.51 L362.54,45.94 L362.87,46.40 L363.20,46.88 L363.53,47.39 L363.86,47.92 L364.19,48.47 L364.52,49.04 L364.85,49.63 L365.18,50.23 L365.51,50.85 L365.84,51.49 L366.17,52.14 L366.50,52.80 L366.83,53.47 L367.15,54.15 L367.48,54.84 L367.81,55.54 L368.14,56.25 L368.47,56.96 L368.80,57.68 L369.13,58.40 L369.46,59.12 L369.79,59.85 L370.12,60.57 L370.45,61.30 L370.78,62.03 L371.11,62.76 L371.44,63.49 L371.77,64.21 L372.09,64.93 L372.42,65.65 L372.75,66.36 L373.08,67.08 L373.41,67.78 L373.74,68.48 L374.07,69.18 L374.40,69.87 L374.73,70.55 L375.06,71.22 L375.39,71.89 L375.72,72.56 L376.05,73.21 L376.38,73.86 L376.71,74.50 L377.04,75.13 L377.36,75.75 L377.69,76.36 L378.02,76.96 L378.35,77.56 L378.68,78.15 L379.01,78.72 L379.34,79.29 L379.67,79.85 L380.00,80.40 L380.33,80.94 L380.66,81.47 L380.99,81.99 L381.32,82.50 L381.65,83.00 L381.98,83.50 L382.30,83.98 L382.63,84.45 L382.96,84.92 L383.29,85.37 L383.62,85.81 L383.95,86.25 L384.28,86.68 L384.61,87.09 L384.94,87.50 L385.27,87.90 L385.60,88.29 L385.93,88.67 L386.26,89.04 L386.59,89.40 L386.92,89.76 L387.24,90.10 L387.57,90.44 L387.90,90.77 L388.23,91.09 L388.56,91.40 L388.89,91.71 L389.22,92.00 L389.55,92.29 L389.88,92.57 L390.21,92.85 L390.54,93.11 L390.87,93.37 L391.20,93.63 L391.53,93.87 L391.86,94.11 L392.18,94.34 L392.51,94.57 L392.84,94.79 L393.17,95.00 L393.50,95.21 L393.83,95.41 L394.16,95.61 L394.49,95.80 L394.82,95.99 L395.15,96.17 L395.48,96.34 L395.81,96.51 L396.14,96.67 L396.47,96.83 L396.80,96.99 L397.13,97.14 L397.45,97.28 L397.78,97.43 L398.11,97.56 L398.44,97.70 L398.77,97.83 L399.10,97.95 L399.43,98.07 L399.76,98.19 L400.09,98.31 L400.42,98.42 L400.75,98.53 L401.08,98.63 L401.41,98.73 L401.74,98.83 L402.07,98.93 L402.39,99.02 L402.72,99.11 L403.05,99.20 L403.38,99.28 L403.71,99.37 L404.04,99.45 L404.37,99.52 L404.70,99.60" stroke="#000" stroke-width="1.7" fill="none" stroke-linejoin="round" stroke-linecap="round" />
<path d="M319.40,130.20 L319.73,130.10 L320.06,130.00 L320.39,129.90 L320.72,129.80 L321.05,129.69 L321.38,129.58 L321.71,129.46 L322.03,129.34 L322.36,129.22 L322.69,129.10 L323.02,128.97 L323.35,128.84 L323.68,128.70 L324.01,128.56 L324.34,128.42 L324.67,128.27 L325.00,128.12 L325.33,127.97 L325.66,127.81 L325.99,127.64 L326.32,127.47 L326.65,127.30 L326.97,127.12 L327.30,126.93 L327.63,126.74 L327.96,126.55 L328.29,126.35 L328.62,126.14 L328.95,125.93 L329.28,125.71 L329.61,125.49 L329.94,125.26 L330.27,125.03 L330.60,124.78 L330.93,124.53 L331.26,124.28 L331.59,124.02 L331.92,123.75 L332.24,123.47 L332.57,123.19 L332.90,122.90 L333.23,122.60 L333.56,122.30 L333.89,121.99 L334.22,121.67 L334.55,121.34 L334.88,121.00 L335.21,120.66 L335.54,120.31 L335.87,119.95 L336.20,119.58 L336.53,119.20 L336.86,118.82 L337.18,118.42 L337.51,118.02 L337.84,117.61 L338.17,117.19 L338.50,116.76 L338.83,116.32 L339.16,115.87 L339.49,115.41 L339.82,114.95 L340.15,114.47 L340.48,113.99 L340.81,113.50 L341.14,112.99 L341.47,112.48 L341.80,111.96 L342.12,111.43 L342.45,110.89 L342.78,110.34 L343.11,109.79 L343.44,109.22 L343.77,108.65 L344.10,108.06 L344.43,107.47 L344.76,106.87 L345.09,106.26 L345.42,105.64 L345.75,105.02 L346.08,104.38 L346.41,103.74 L346.74,103.09 L347.06,102.44 L347.39,101.78 L347.72,101.11 L348.05,100.43 L348.38,99.75 L348.71,99.06 L349.04,98.36 L349.37,97.67 L349.70,96.96 L350.03,96.25 L350.36,95.54 L350.69,94.83 L351.02,94.11 L351.35,93.39 L351.68,92.67 L352.01,91.94 L352.33,91.22 L352.66,90.50 L352.99,89.78 L353.32,89.06 L353.65,88.34 L353.98,87.62 L354.31,86.91 L354.64,86.20 L354.97,85.50 L355.30,84.81 L355.63,84.13 L355.96,83.45 L356.29,82.78 L356.62,82.12 L356.95,81.48 L357.27,80.85 L357.60,80.23 L357.93,79.62 L358.26,79.04 L358.59,78.47 L358.92,77.92 L359.25,77.38 L359.58,76.87 L359.91,76.38 L360.24,75.92 L360.57,75.48 L360.90,75.06 L361.23,74.67 L361.56,74.30 L361.89,73.97 L362.21,73.66 L362.54,73.38 L362.87,73.13 L363.20,72.92 L363.53,72.73 L363.86,72.58 L364.19,72.46 L364.52,72.37 L364.85,72.32 L365.18,72.30 L365.51,72.31 L365.84,72.36 L366.17,72.44 L366.50,72.55 L366.83,72.70 L367.15,72.87 L367.48,73.08 L367.81,73.32 L368.14,73.59 L368.47,73.90 L368.80,74.23 L369.13,74.58 L369.46,74.97 L369.79,75.38 L370.12,75.82 L370.45,76.28 L370.78,76.77 L371.11,77.28 L371.44,77.81 L371.77,78.36 L372.09,78.93 L372.42,79.51 L372.75,80.11 L373.08,80.73 L373.41,81.37 L373.74,82.01 L374.07,82.67 L374.40,83.34 L374.73,84.02 L375.06,84.71 L375.39,85.41 L375.72,86.11 L376.05,86.82 L376.38,87.53 L376.71,88.25 L377.04,88.98 L377.36,89.70 L377.69,90.43 L378.02,91.16 L378.35,91.89 L378.68,92.62 L379.01,93.35 L379.34,94.08 L379.67,94.80 L380.00,95.52 L380.33,96.24 L380.66,96.96 L380.99,97.67 L381.32,98.38 L381.65,99.08 L381.98,99.78 L382.30,100.47 L382.63,101.16 L382.96,101.83 L383.29,102.51 L383.62,103.17 L383.95,103.83 L384.28,104.48 L384.61,105.12 L384.94,105.76 L385.27,106.39 L385.60,107.01 L385.93,107.62 L386.26,108.22 L386.59,108.81 L386.92,109.40 L387.24,109.97 L387.57,110.54 L387.90,111.10 L388.23,111.65 L388.56,112.19 L388.89,112.72 L389.22,113.24 L389.55,113.75 L389.88,114.26 L390.21,114.75 L390.54,115.24 L390.87,115.71 L391.20,116.18 L391.53,116.64 L391.86,117.09 L392.18,117.53 L392.51,117.96 L392.84,118.38 L393.17,118.79 L393.50,119.20 L393.83,119.59 L394.16,119.98 L394.49,120.36 L394.82,120.73 L395.15,121.09 L395.48,121.44 L395.81,121.79 L396.14,122.13 L396.47,122.46 L396.80,122.78 L397.13,123.09 L397.45,123.40 L397.78,123.70 L398.11,123.99 L398.44,124.28 L398.77,124.55 L399.10,124.83 L399.43,125.09 L399.76,125.35 L400.09,125.60 L400.42,125.84 L400.75,126.08 L401.08,126.31 L401.41,126.54 L401.74,126.76 L402.07,126.97 L402.39,127.18 L402.72,127.39 L403.05,127.59 L403.38,127.78 L403.71,127.97 L404.04,128.15 L404.37,128.33 L404.70,128.50" stroke="#f00" stroke-width="1.7" fill="none" stroke-linejoin="round" stroke-linecap="round" />
<path d="M319.40,160.40 L319.73,160.02 L320.06,160.93 L320.39,160.64 L320.72,160.22 L321.05,160.37 L321.38,160.61 L321.71,160.55 L322.03,160.88 L322.36,160.31 L322.69,160.29 L323.02,160.74 L323.35,160.57 L323.68,160.94 L324.01,160.24 L324.34,160.29 L324.67,159.73 L325.00,161.02 L325.33,159.54 L325.66,160.30 L325.99,159.71 L326.32,160.27 L326.65,160.43 L326.97,159.18 L327.30,159.83 L327.63,159.00 L327.96,160.51 L328.29,159.51 L328.62,158.87 L328.95,159.22 L329.28,160.14 L329.61,160.13 L329.94,159.91 L330.27,158.77 L330.60,158.97 L330.93,159.73 L331.26,158.41 L331.59,158.47 L331.92,158.00 L332.24,157.73 L332.57,158.74 L332.90,158.27 L333.23,157.98 L333.56,157.83 L333.89,157.83 L334.22,157.84 L334.55,156.83 L334.88,156.40 L335.21,155.77 L335.54,156.53 L335.87,155.42 L336.20,154.61 L336.53,154.88 L336.86,154.66 L337.18,154.69 L337.51,154.38 L337.84,153.10 L338.17,152.63 L338.50,152.41 L338.83,151.50 L339.16,151.55 L339.49,151.32 L339.82,150.58 L340.15,149.19 L340.48,148.83 L340.81,149.47 L341.14,147.70 L341.47,147.93 L341.80,147.21 L342.12,146.05 L342.45,145.00 L342.78,144.88 L343.11,143.58 L343.44,143.16 L343.77,142.51 L344.10,141.29 L344.43,140.70 L344.76,139.81 L345.09,138.48 L345.42,138.12 L345.75,136.99 L346.08,135.48 L346.41,135.29 L346.74,134.37 L347.06,133.25 L347.39,131.54 L347.72,131.98 L348.05,130.94 L348.38,129.93 L348.71,128.76 L349.04,126.96 L349.37,126.63 L349.70,125.09 L350.03,125.63 L350.36,123.27 L350.69,122.85 L351.02,120.74 L351.35,119.93 L351.68,119.26 L352.01,118.90 L352.33,117.86 L352.66,116.79 L352.99,114.78 L353.32,115.37 L353.65,113.45 L353.98,113.85 L354.31,113.13 L354.64,111.80 L354.97,111.09 L355.30,109.21 L355.63,110.40 L355.96,108.53 L356.29,108.26 L356.62,106.72 L356.95,106.53 L357.27,105.43 L357.60,105.40 L357.93,105.07 L358.26,104.78 L358.59,104.98 L358.92,104.20 L359.25,103.80 L359.58,103.47 L359.91,104.27 L360.24,102.84 L360.57,103.63 L360.90,102.02 L361.23,102.57 L361.56,103.28 L361.89,103.10 L362.21,104.84 L362.54,104.82 L362.87,103.03 L363.20,103.55 L363.53,104.35 L363.86,105.68 L364.19,105.81 L364.52,105.88 L364.85,105.53 L365.18,106.37 L365.51,106.05 L365.84,107.25 L366.17,108.91 L366.50,109.79 L366.83,109.48 L367.15,110.96 L367.48,112.52 L367.81,112.61 L368.14,113.23 L368.47,114.56 L368.80,115.42 L369.13,116.11 L369.46,116.74 L369.79,117.75 L370.12,118.97 L370.45,119.63 L370.78,121.56 L371.11,122.33 L371.44,123.44 L371.77,124.91 L372.09,125.70 L372.42,126.63 L372.75,127.12 L373.08,127.85 L373.41,130.10 L373.74,129.61 L374.07,130.63 L374.40,131.49 L374.73,133.01 L375.06,134.07 L375.39,135.33 L375.72,135.64 L376.05,135.81 L376.38,137.74 L376.71,138.96 L377.04,139.37 L377.36,140.14 L377.69,141.33 L378.02,142.58 L378.35,142.63 L378.68,142.73 L379.01,143.92 L379.34,144.85 L379.67,144.75 L380.00,146.73 L380.33,146.63 L380.66,147.92 L380.99,148.40 L381.32,148.75 L381.65,150.31 L381.98,149.77 L382.30,150.26 L382.63,151.27 L382.96,152.04 L383.29,152.10 L383.62,152.07 L383.95,153.35 L384.28,153.73 L384.61,154.87 L384.94,154.10 L385.27,154.69 L385.60,154.64 L385.93,154.52 L386.26,155.61 L386.59,156.30 L386.92,155.65 L387.24,156.09 L387.57,156.09 L387.90,157.59 L388.23,156.83 L388.56,157.65 L388.89,157.13 L389.22,157.79 L389.55,157.62 L389.88,156.92 L390.21,158.29 L390.54,158.67 L390.87,157.50 L391.20,158.58 L391.53,158.58 L391.86,158.37 L392.18,158.88 L392.51,158.14 L392.84,159.32 L393.17,159.88 L393.50,158.73 L393.83,159.40 L394.16,160.22 L394.49,159.63 L394.82,159.36 L395.15,159.22 L395.48,159.82 L395.81,159.71 L396.14,160.13 L396.47,159.09 L396.80,160.43 L397.13,159.72 L397.45,160.27 L397.78,159.62 L398.11,159.35 L398.44,159.74 L398.77,159.57 L399.10,159.88 L399.43,160.40 L399.76,160.64 L400.09,160.21 L400.42,159.85 L400.75,159.91 L401.08,160.44 L401.41,160.72 L401.74,160.00 L402.07,160.10 L402.39,159.80 L402.72,160.28 L403.05,160.66 L403.38,158.74 L403.71,160.32 L404.04,159.92 L404.37,159.03 L404.70,160.36" stroke="#00f" stroke-width="1.8" fill="none" stroke-linejoin="round" stroke-linecap="round" />
</g>
<path d="M361.41,28.8 V161.6" stroke="#000" stroke-width="1.3" stroke-dasharray="4.2,2.2" fill="none"/>
<path d="M314.59999999999997,27.8 H404.7 V164.79999999999998" stroke="#000" stroke-width="1.5" fill="none"/>
<path d="M319.4,27.8 V164.79999999999998 M314.59999999999997,161.6 H404.7" stroke="#000" stroke-width="1.6" fill="none"/>
<path d="M314.60,27.80 H319.4 M316.80,35.23 H319.4 M314.60,42.67 H319.4 M316.80,50.10 H319.4 M314.60,57.53 H319.4 M316.80,64.97 H319.4 M314.60,72.40 H319.4 M316.80,79.83 H319.4 M314.60,87.27 H319.4 M316.80,94.70 H319.4 M314.60,102.13 H319.4 M316.80,109.57 H319.4 M314.60,117.00 H319.4 M316.80,124.43 H319.4 M314.60,131.87 H319.4 M316.80,139.30 H319.4 M314.60,146.73 H319.4 M316.80,154.17 H319.4 M314.60,161.60 H319.4 M319.40,161.6 v3.4 M324.73,161.6 v2.2 M330.06,161.6 v2.2 M335.39,161.6 v2.2 M340.72,161.6 v3.4 M346.06,161.6 v2.2 M351.39,161.6 v2.2 M356.72,161.6 v2.2 M362.05,161.6 v3.4 M367.38,161.6 v2.2 M372.71,161.6 v2.2 M378.04,161.6 v2.2 M383.38,161.6 v3.4 M388.71,161.6 v2.2 M394.04,161.6 v2.2 M399.37,161.6 v2.2 M404.70,161.6 v3.4 " stroke="#000" stroke-width="1.3" fill="none"/>
<text x="319.40" y="177.00" font-size="9.8" font-weight="bold" fill="#000" text-anchor="middle" font-family='"Liberation Sans", Arial, sans-serif' >38</text>
<text x="340.72" y="177.00" font-size="9.8" font-weight="bold" fill="#000" text-anchor="middle" font-family='"Liberation Sans", Arial, sans-serif' >39</text>
<text x="362.05" y="177.00" font-size="9.8" font-weight="bold" fill="#000" text-anchor="middle" font-family='"Liberation Sans", Arial, sans-serif' >40</text>
<text x="383.38" y="177.00" font-size="9.8" font-weight="bold" fill="#000" text-anchor="middle" font-family='"Liberation Sans", Arial, sans-serif' >41</text>
<text x="404.70" y="177.00" font-size="9.8" font-weight="bold" fill="#000" text-anchor="middle" font-family='"Liberation Sans", Arial, sans-serif' >42</text>
<text x="328.30" y="193.00" font-size="11.8" font-weight="bold" fill="#000" text-anchor="start" font-family='"Liberation Sans", Arial, sans-serif' >2<tspan x="335.6" font-size="9.4">θ</tspan><tspan x="340.6" font-size="11.5"> (degrees)</tspan></text>
<text x="0.00" y="0.00" font-size="11.9" font-weight="bold" fill="#000" text-anchor="middle" font-family='"Liberation Sans", Arial, sans-serif' transform="translate(305.3,96.6) rotate(-90)">Intensity (a.u.)</text>
<text x="287.00" y="34.50" font-size="17.2" font-weight="bold" fill="#000" text-anchor="start" font-family='"Liberation Sans", Arial, sans-serif' textLength="20.60" lengthAdjust="spacingAndGlyphs" >(b)</text>
<text x="322.50" y="41.00" font-size="13.6" font-weight="bold" fill="#000" text-anchor="start" font-family='"Liberation Sans", Arial, sans-serif' textLength="29.80" lengthAdjust="spacingAndGlyphs" >(111)</text>
<rect x="9.0" y="231.0" width="206.1" height="205.2" fill="#050505"/>
<g clip-path="url(#clipC)" fill="#f4f4f4" filter="url(#soft)">
<circle cx="31.2" cy="231.2" r="1.80"/>
<circle cx="94.5" cy="232.0" r="1.50"/>
<circle cx="108.0" cy="231.2" r="1.20"/>
<circle cx="46.2" cy="243.2" r="2.40"/>
<circle cx="72.5" cy="245.8" r="2.40"/>
<circle cx="93.8" cy="245.8" r="2.70"/>
<circle cx="113.8" cy="245.8" r="2.10"/>
<circle cx="43.8" cy="251.5" r="2.40"/>
<circle cx="62.0" cy="256.5" r="2.70"/>
<circle cx="82.5" cy="255.0" r="2.70"/>
<circle cx="105.0" cy="258.8" r="2.40"/>
<circle cx="13.0" cy="257.0" r="2.10"/>
<circle cx="53.2" cy="270.8" r="3.60"/>
<circle cx="21.2" cy="279.0" r="2.70"/>
<circle cx="31.8" cy="280.0" r="2.40"/>
<circle cx="70.0" cy="279.5" r="2.70"/>
<circle cx="38.0" cy="293.8" r="3.30"/>
<circle cx="18.0" cy="297.8" r="3.60"/>
<circle cx="66.0" cy="295.0" r="3.90"/>
<circle cx="106.2" cy="294.5" r="3.30"/>
<circle cx="59.5" cy="303.2" r="2.70"/>
<circle cx="95.8" cy="309.0" r="2.40"/>
<circle cx="27.5" cy="315.0" r="3.30"/>
<circle cx="113.8" cy="322.5" r="2.70"/>
<circle cx="44.5" cy="325.8" r="2.70"/>
<circle cx="55.0" cy="328.2" r="2.40"/>
<circle cx="71.2" cy="331.2" r="2.10"/>
<circle cx="101.2" cy="330.0" r="2.10"/>
<circle cx="10.0" cy="302.0" r="1.20"/>
<circle cx="158.8" cy="239.0" r="2.70"/>
<circle cx="130.5" cy="247.5" r="2.40"/>
<circle cx="167.0" cy="246.2" r="2.10"/>
<circle cx="190.8" cy="245.2" r="3.30"/>
<circle cx="212.0" cy="241.5" r="2.10"/>
<circle cx="130.5" cy="257.5" r="2.40"/>
<circle cx="160.0" cy="255.0" r="3.30"/>
<circle cx="193.8" cy="253.8" r="2.40"/>
<circle cx="187.0" cy="263.2" r="3.30"/>
<circle cx="193.8" cy="264.5" r="2.40"/>
<circle cx="143.2" cy="268.2" r="2.70"/>
<circle cx="132.0" cy="273.2" r="3.00"/>
<circle cx="182.5" cy="277.5" r="2.40"/>
<circle cx="122.5" cy="284.5" r="3.30"/>
<circle cx="140.8" cy="284.5" r="2.40"/>
<circle cx="159.2" cy="282.5" r="2.70"/>
<circle cx="189.5" cy="284.5" r="2.70"/>
<circle cx="178.8" cy="287.8" r="2.40"/>
<circle cx="148.0" cy="299.5" r="2.70"/>
<circle cx="205.8" cy="295.8" r="2.40"/>
<circle cx="130.0" cy="304.5" r="2.40"/>
<circle cx="187.5" cy="303.8" r="2.70"/>
<circle cx="194.2" cy="312.5" r="2.40"/>
<circle cx="174.5" cy="322.5" r="2.40"/>
<circle cx="148.0" cy="329.0" r="2.40"/>
<circle cx="160.5" cy="329.5" r="2.10"/>
<circle cx="211.2" cy="330.0" r="2.70"/>
<circle cx="43.8" cy="348.8" r="2.40"/>
<circle cx="12.0" cy="358.0" r="2.40"/>
<circle cx="27.0" cy="361.0" r="2.40"/>
<circle cx="79.5" cy="358.5" r="2.40"/>
<circle cx="33.8" cy="366.0" r="2.40"/>
<circle cx="58.0" cy="366.2" r="2.70"/>
<circle cx="52.5" cy="374.2" r="2.40"/>
<circle cx="76.2" cy="374.8" r="2.70"/>
<circle cx="28.8" cy="380.5" r="2.40"/>
<circle cx="38.0" cy="397.5" r="3.00"/>
<circle cx="77.0" cy="403.8" r="1.80"/>
<circle cx="32.5" cy="415.5" r="2.40"/>
<circle cx="66.2" cy="413.0" r="2.40"/>
<circle cx="70.0" cy="421.8" r="2.70"/>
<circle cx="82.5" cy="424.2" r="2.40"/>
<circle cx="66.2" cy="429.2" r="2.40"/>
<circle cx="35.0" cy="433.5" r="2.10"/>
<circle cx="40.8" cy="433.5" r="1.80"/>
<circle cx="115.0" cy="337.7" r="2.40"/>
<circle cx="213.6" cy="380.0" r="1.68"/>
</g>
<text x="14.20" y="250.90" font-size="18.0" font-weight="bold" fill="#fff" text-anchor="start" font-family='"Liberation Sans", Arial, sans-serif' textLength="19.80" lengthAdjust="spacingAndGlyphs" >(c)</text>
<text x="16.40" y="419.80" font-size="26.6" font-weight="bold" fill="#fff" text-anchor="start" font-family='"Liberation Serif", "Times New Roman", serif' textLength="72.50" lengthAdjust="spacingAndGlyphs" >20 nm</text>
<rect x="16.2" y="426.4" width="11.4" height="2.8" fill="#fff"/>
<rect x="93.2" y="343.4" width="119.0" height="90.2" fill="#fff"/>
<rect x="121.35" y="402.15" width="7.83" height="10.75" fill="#f00" stroke="#b89090" stroke-width="0.6"/>
<rect x="129.38" y="400.00" width="7.83" height="12.90" fill="#f00" stroke="#b89090" stroke-width="0.6"/>
<rect x="137.40" y="395.70" width="7.83" height="17.20" fill="#f00" stroke="#b89090" stroke-width="0.6"/>
<rect x="145.42" y="384.95" width="7.83" height="27.95" fill="#f00" stroke="#b89090" stroke-width="0.6"/>
<rect x="153.45" y="357.00" width="7.83" height="55.90" fill="#f00" stroke="#b89090" stroke-width="0.6"/>
<rect x="161.47" y="374.20" width="7.83" height="38.70" fill="#f00" stroke="#b89090" stroke-width="0.6"/>
<rect x="169.50" y="389.25" width="7.83" height="23.65" fill="#f00" stroke="#b89090" stroke-width="0.6"/>
<rect x="177.53" y="395.70" width="7.83" height="17.20" fill="#f00" stroke="#b89090" stroke-width="0.6"/>
<rect x="185.55" y="404.30" width="7.83" height="8.60" fill="#f00" stroke="#b89090" stroke-width="0.6"/>
<rect x="193.58" y="410.75" width="7.83" height="2.15" fill="#f00" stroke="#b89090" stroke-width="0.6"/>
<path d="M124.50,403.20 L125.33,403.20 L126.15,403.20 L126.98,403.20 L127.80,403.20 L128.63,403.19 L129.46,403.19 L130.28,403.18 L131.11,403.18 L131.93,403.16 L132.76,403.14 L133.58,403.11 L134.41,403.07 L135.24,403.00 L136.06,402.91 L136.89,402.78 L137.71,402.61 L138.54,402.37 L139.37,402.05 L140.19,401.63 L141.02,401.09 L141.84,400.40 L142.67,399.53 L143.49,398.47 L144.32,397.18 L145.15,395.64 L145.97,393.85 L146.80,391.79 L147.62,389.47 L148.45,386.90 L149.28,384.12 L150.10,381.18 L150.93,378.14 L151.75,375.06 L152.58,372.05 L153.40,369.19 L154.23,366.59 L155.06,364.33 L155.88,362.49 L156.71,361.17 L157.53,360.39 L158.36,360.21 L159.19,360.62 L160.01,361.62 L160.84,363.15 L161.66,365.15 L162.49,367.56 L163.31,370.27 L164.14,373.20 L164.97,376.25 L165.79,379.32 L166.62,382.33 L167.44,385.22 L168.27,387.92 L169.10,390.39 L169.92,392.62 L170.75,394.57 L171.57,396.27 L172.40,397.70 L173.22,398.90 L174.05,399.89 L174.88,400.68 L175.70,401.31 L176.53,401.80 L177.35,402.18 L178.18,402.47 L179.01,402.68 L179.83,402.84 L180.66,402.95 L181.48,403.03 L182.31,403.09 L183.13,403.12 L183.96,403.15 L184.79,403.17 L185.61,403.18 L186.44,403.19 L187.26,403.19 L188.09,403.20 L188.92,403.20 L189.74,403.20 L190.57,403.20 L191.39,403.20 L192.22,403.20 L193.04,403.20 L193.87,403.20 L194.70,403.20 L195.52,403.20 L196.35,403.20 L197.17,403.20 L198.00,403.20" stroke="#000" stroke-width="1.1" fill="none" stroke-linejoin="round" stroke-linecap="round" />
<path d="M120.75,348.4 H201.5 V412.9" stroke="#444" stroke-width="0.6" fill="none"/>
<path d="M120.75,348.4 V412.9 H201.5" stroke="#000" stroke-width="0.9" fill="none"/>
<path d="M118.55,412.90 H120.75 M119.45,402.15 H120.75 M118.55,391.40 H120.75 M119.45,380.65 H120.75 M118.55,369.90 H120.75 M119.45,359.15 H120.75 M118.55,348.40 H120.75 M124.50,412.9 v2.2 M132.60,412.9 v1.3 M140.70,412.9 v2.2 M148.80,412.9 v1.3 M156.90,412.9 v2.2 M165.00,412.9 v1.3 M173.10,412.9 v2.2 M181.20,412.9 v1.3 M189.30,412.9 v2.2 M197.40,412.9 v1.3 " stroke="#000" stroke-width="0.8" fill="none"/>
<text x="118.30" y="415.70" font-size="8.3" font-weight="bold" fill="#000" text-anchor="end" font-family='"Liberation Sans", Arial, sans-serif' >0</text>
<text x="118.30" y="394.20" font-size="8.3" font-weight="bold" fill="#000" text-anchor="end" font-family='"Liberation Sans", Arial, sans-serif' >10</text>
<text x="118.30" y="372.70" font-size="8.3" font-weight="bold" fill="#000" text-anchor="end" font-family='"Liberation Sans", Arial, sans-serif' >20</text>
<text x="118.30" y="351.20" font-size="8.3" font-weight="bold" fill="#000" text-anchor="end" font-family='"Liberation Sans", Arial, sans-serif' >30</text>
<text x="124.50" y="422.60" font-size="8.3" font-weight="bold" fill="#000" text-anchor="middle" font-family='"Liberation Sans", Arial, sans-serif' >4</text>
<text x="140.70" y="422.60" font-size="8.3" font-weight="bold" fill="#000" text-anchor="middle" font-family='"Liberation Sans", Arial, sans-serif' >6</text>
<text x="156.90" y="422.60" font-size="8.3" font-weight="bold" fill="#000" text-anchor="middle" font-family='"Liberation Sans", Arial, sans-serif' >8</text>
<text x="173.10" y="422.60" font-size="8.3" font-weight="bold" fill="#000" text-anchor="middle" font-family='"Liberation Sans", Arial, sans-serif' >10</text>
<text x="189.30" y="422.60" font-size="8.3" font-weight="bold" fill="#000" text-anchor="middle" font-family='"Liberation Sans", Arial, sans-serif' >12</text>
<text x="160.60" y="431.30" font-size="8.4" font-weight="bold" fill="#000" text-anchor="middle" font-family='"Liberation Sans", Arial, sans-serif' >Particle size (nm)</text>
<text x="0.00" y="0.00" font-size="8.5" font-weight="bold" fill="#000" text-anchor="middle" font-family='"Liberation Sans", Arial, sans-serif' transform="translate(104.0,384.6) rotate(-90)">Frequency (%)</text>
<text x="161.30" y="356.30" font-size="8.1" font-weight="bold" fill="#000" text-anchor="start" font-family='"Liberation Sans", Arial, sans-serif' >P= 8.2 nm</text>
<g clip-path="url(#clipD)">
<path d="M254.97,348.2 L254.97,307.49 L255.23,317.19 L255.48,325.79 L255.74,328.84 L256.00,334.00 L256.26,337.08 L256.52,338.19 L256.78,340.09 L257.04,341.01 L257.30,341.47 L257.56,343.19 L257.82,341.49 L258.07,342.18 L258.33,341.58 L258.59,341.05 L258.85,341.74 L259.11,341.48 L259.37,341.72 L259.63,342.68 L259.89,343.06 L260.15,344.50 L260.41,344.74 L260.66,345.00 L260.92,344.55 L261.18,343.27 L261.44,344.76 L261.70,344.96 L261.96,344.94 L262.22,344.48 L262.48,344.48 L262.74,344.99 L263.00,343.58 L263.25,343.16 L263.51,341.58 L263.77,341.49 L264.03,340.00 L264.29,338.10 L264.55,339.22 L264.81,338.82 L265.07,340.11 L265.33,341.64 L265.59,342.84 L265.84,343.83 L266.10,344.34 L266.36,344.98 L266.62,344.93 L266.88,343.71 L267.14,344.38 L267.40,344.50 L267.66,344.50 L267.92,344.87 L268.18,344.41 L268.43,344.56 L268.69,344.05 L268.95,344.84 L269.21,345.49 L269.47,344.83 L269.73,344.42 L269.99,343.82 L270.25,344.54 L270.51,345.47 L270.76,345.26 L271.02,345.59 L271.28,345.22 L271.54,345.27 L271.80,345.11 L272.06,343.55 L272.32,342.86 L272.58,342.37 L272.84,341.88 L273.10,341.36 L273.35,342.88 L273.61,343.93 L273.87,344.18 L274.13,345.77 L274.39,345.15 L274.65,345.94 L274.91,346.03 L275.17,345.70 L275.43,345.10 L275.69,346.07 L275.94,345.41 L276.20,345.65 L276.46,346.36 L276.72,345.45 L276.98,346.10 L277.24,346.24 L277.50,345.62 L277.76,344.75 L278.02,342.39 L278.28,339.77 L278.53,333.49 L278.79,327.36 L279.05,320.34 L279.31,313.38 L279.57,307.50 L279.83,307.97 L280.09,309.46 L280.35,311.79 L280.61,315.10 L280.87,320.27 L281.12,324.92 L281.38,329.23 L281.64,334.13 L281.90,336.26 L282.16,339.52 L282.42,340.02 L282.68,341.51 L282.94,342.08 L283.20,342.07 L283.46,342.17 L283.71,342.28 L283.97,342.38 L284.23,343.07 L284.49,343.76 L284.75,343.48 L285.01,343.49 L285.27,344.13 L285.53,345.05 L285.79,345.06 L286.05,345.75 L286.30,345.63 L286.56,346.17 L286.82,345.97 L287.08,345.29 L287.34,345.79 L287.60,345.46 L287.86,346.23 L288.12,345.91 L288.38,345.10 L288.64,343.92 L288.89,342.83 L289.15,340.36 L289.41,338.84 L289.67,335.46 L289.93,333.55 L290.19,333.30 L290.45,331.67 L290.71,332.27 L290.97,332.08 L291.23,333.55 L291.48,333.30 L291.74,333.00 L292.00,334.52 L292.26,333.70 L292.52,332.61 L292.78,333.46 L293.04,334.07 L293.30,336.12 L293.56,338.53 L293.82,339.11 L294.07,340.61 L294.33,340.90 L294.59,341.25 L294.85,340.89 L295.11,341.76 L295.37,341.77 L295.63,342.60 L295.89,341.10 L296.15,343.09 L296.40,343.61 L296.66,344.27 L296.92,344.47 L297.18,344.67 L297.44,344.40 L297.70,344.64 L297.96,344.59 L298.22,344.95 L298.48,344.74 L298.74,344.24 L298.99,344.83 L299.25,344.82 L299.51,345.93 L299.77,345.08 L300.03,345.38 L300.29,345.16 L300.55,346.93 L300.81,345.99 L301.07,346.17 L301.33,346.19 L301.58,346.54 L301.84,346.27 L302.10,346.12 L302.36,346.40 L302.62,346.55 L302.88,346.53 L303.14,346.61 L303.40,346.45 L303.66,346.75 L303.92,347.24 L304.17,345.96 L304.43,347.16 L304.69,346.53 L304.95,346.99 L305.21,346.60 L305.47,346.87 L305.73,346.52 L305.99,346.83 L306.25,347.01 L306.51,346.39 L306.76,346.00 L307.02,346.38 L307.28,346.48 L307.54,346.93 L307.80,346.56 L308.06,346.35 L308.32,346.78 L308.58,346.19 L308.84,346.55 L309.10,346.40 L309.35,346.73 L309.61,346.73 L309.87,346.46 L310.13,346.40 L310.39,346.42 L310.65,346.94 L310.91,346.84 L311.17,346.57 L311.43,347.28 L311.69,346.16 L311.94,346.44 L312.20,346.55 L312.46,346.84 L312.72,346.26 L312.98,346.68 L313.24,345.85 L313.50,346.43 L313.76,347.15 L314.02,346.30 L314.28,346.79 L314.53,346.79 L314.79,346.68 L315.05,346.64 L315.31,346.50 L315.57,346.30 L315.83,346.42 L316.09,346.88 L316.35,347.12 L316.61,346.91 L316.87,346.47 L317.12,346.27 L317.38,345.92 L317.64,347.13 L317.90,346.58 L318.16,346.70 L318.42,346.77 L318.68,346.56 L318.94,346.71 L319.20,346.72 L319.46,346.87 L319.71,346.47 L319.97,346.22 L320.23,346.00 L320.49,346.83 L320.75,347.03 L321.01,346.73 L321.27,346.95 L321.53,346.24 L321.79,346.95 L322.05,346.61 L322.30,347.15 L322.56,346.77 L322.82,346.57 L323.08,346.06 L323.34,346.91 L323.60,346.50 L323.86,347.44 L324.12,347.11 L324.38,346.96 L324.63,346.84 L324.89,346.49 L325.15,346.41 L325.41,347.27 L325.67,346.45 L325.93,347.08 L326.19,345.95 L326.45,346.54 L326.71,346.60 L326.97,346.73 L327.22,346.67 L327.48,346.66 L327.74,346.93 L328.00,346.38 L328.26,346.56 L328.52,346.38 L328.78,346.69 L329.04,346.41 L329.30,346.96 L329.56,345.31 L329.81,346.94 L330.07,346.84 L330.33,346.30 L330.59,346.20 L330.85,346.98 L331.11,347.31 L331.37,347.21 L331.63,347.06 L331.89,346.98 L332.15,346.74 L332.40,346.29 L332.66,346.27 L332.92,346.92 L333.18,346.48 L333.44,346.35 L333.70,346.15 L333.96,346.75 L334.22,346.97 L334.48,346.40 L334.74,346.11 L334.99,346.89 L335.25,345.94 L335.51,346.03 L335.77,346.79 L336.03,347.29 L336.29,346.92 L336.55,346.83 L336.81,346.49 L337.07,347.33 L337.33,345.77 L337.58,345.80 L337.84,346.97 L338.10,347.41 L338.36,346.76 L338.62,346.54 L338.88,346.18 L339.14,346.43 L339.40,346.78 L339.66,347.46 L339.92,346.51 L340.17,346.38 L340.43,346.82 L340.69,346.60 L340.95,346.63 L341.21,346.80 L341.47,347.15 L341.73,346.58 L341.99,347.25 L342.25,346.17 L342.51,347.05 L342.76,346.52 L343.02,346.99 L343.28,346.57 L343.54,346.79 L343.80,346.51 L344.06,347.02 L344.32,347.34 L344.58,346.82 L344.84,346.85 L345.10,347.29 L345.35,346.98 L345.61,347.36 L345.87,346.67 L346.13,346.86 L346.39,346.71 L346.65,345.72 L346.91,346.66 L347.17,346.58 L347.43,346.48 L347.69,346.77 L347.94,346.95 L348.20,346.38 L348.46,346.33 L348.72,347.84 L348.98,346.78 L349.24,346.85 L349.50,346.94 L349.76,346.25 L350.02,346.93 L350.27,346.39 L350.53,346.93 L350.79,346.88 L351.05,346.45 L351.31,347.01 L351.57,346.79 L351.83,347.15 L352.09,347.07 L352.35,346.45 L352.61,346.50 L352.86,347.17 L353.12,347.18 L353.38,345.76 L353.64,346.98 L353.90,347.06 L354.16,346.53 L354.42,347.03 L354.68,346.87 L354.94,346.39 L355.20,346.35 L355.45,346.81 L355.71,346.22 L355.97,346.79 L356.23,346.82 L356.49,346.73 L356.75,346.84 L357.01,346.50 L357.27,346.53 L357.53,346.77 L357.79,346.02 L358.04,345.47 L358.30,343.84 L358.56,340.60 L358.82,334.83 L359.08,327.27 L359.34,315.28 L359.60,300.62 L359.86,286.33 L360.12,271.44 L360.38,258.89 L360.63,249.38 L360.89,247.53 L361.15,252.65 L361.41,269.43 L361.67,281.57 L361.93,297.74 L362.19,311.40 L362.45,325.20 L362.71,333.95 L362.97,340.37 L363.22,343.41 L363.48,345.44 L363.74,346.36 L364.00,346.77 L364.26,347.20 L364.52,346.73 L364.78,346.58 L365.04,346.44 L365.30,346.77 L365.56,346.33 L365.81,346.33 L366.07,347.32 L366.33,346.84 L366.59,347.21 L366.85,347.11 L367.11,346.67 L367.37,346.79 L367.63,346.18 L367.89,345.95 L368.15,346.57 L368.40,346.81 L368.66,346.78 L368.92,346.71 L369.18,346.43 L369.44,346.84 L369.70,346.14 L369.96,346.11 L370.22,345.01 L370.48,343.97 L370.74,342.48 L370.99,341.61 L371.25,340.15 L371.51,338.16 L371.77,335.33 L372.03,334.30 L372.29,333.47 L372.55,332.61 L372.81,333.79 L373.07,334.40 L373.33,335.81 L373.58,339.16 L373.84,341.00 L374.10,343.61 L374.36,344.22 L374.62,345.56 L374.88,346.35 L375.14,347.03 L375.40,345.90 L375.66,347.25 L375.92,347.14 L376.17,346.69 L376.43,346.55 L376.69,346.48 L376.95,346.40 L377.21,346.51 L377.47,345.38 L377.73,344.84 L377.99,344.43 L378.25,341.60 L378.50,340.65 L378.76,337.97 L379.02,337.20 L379.28,335.39 L379.54,333.95 L379.80,333.71 L380.06,333.29 L380.32,336.07 L380.58,336.91 L380.84,339.55 L381.09,340.81 L381.35,342.70 L381.61,344.41 L381.87,344.28 L382.13,345.86 L382.39,345.83 L382.65,347.01 L382.91,346.67 L383.17,346.65 L383.43,346.66 L383.68,346.86 L383.94,347.05 L384.20,347.91 L384.46,346.95 L384.72,347.08 L384.98,346.83 L385.24,346.40 L385.50,345.88 L385.76,346.53 L386.02,346.34 L386.27,346.49 L386.53,346.45 L386.79,346.50 L387.05,346.83 L387.31,346.85 L387.57,346.60 L387.83,346.04 L388.09,346.43 L388.35,346.11 L388.61,347.22 L388.86,346.62 L389.12,346.57 L389.38,346.53 L389.38,348.2 Z" fill="#f00" stroke="none"/>
<path d="M254.97,307.49 L255.23,317.19 L255.48,325.79 L255.74,328.84 L256.00,334.00 L256.26,337.08 L256.52,338.19 L256.78,340.09 L257.04,341.01 L257.30,341.47 L257.56,343.19 L257.82,341.49 L258.07,342.18 L258.33,341.58 L258.59,341.05 L258.85,341.74 L259.11,341.48 L259.37,341.72 L259.63,342.68 L259.89,343.06 L260.15,344.50 L260.41,344.74 L260.66,345.00 L260.92,344.55 L261.18,343.27 L261.44,344.76 L261.70,344.96 L261.96,344.94 L262.22,344.48 L262.48,344.48 L262.74,344.99 L263.00,343.58 L263.25,343.16 L263.51,341.58 L263.77,341.49 L264.03,340.00 L264.29,338.10 L264.55,339.22 L264.81,338.82 L265.07,340.11 L265.33,341.64 L265.59,342.84 L265.84,343.83 L266.10,344.34 L266.36,344.98 L266.62,344.93 L266.88,343.71 L267.14,344.38 L267.40,344.50 L267.66,344.50 L267.92,344.87 L268.18,344.41 L268.43,344.56 L268.69,344.05 L268.95,344.84 L269.21,345.49 L269.47,344.83 L269.73,344.42 L269.99,343.82 L270.25,344.54 L270.51,345.47 L270.76,345.26 L271.02,345.59 L271.28,345.22 L271.54,345.27 L271.80,345.11 L272.06,343.55 L272.32,342.86 L272.58,342.37 L272.84,341.88 L273.10,341.36 L273.35,342.88 L273.61,343.93 L273.87,344.18 L274.13,345.77 L274.39,345.15 L274.65,345.94 L274.91,346.03 L275.17,345.70 L275.43,345.10 L275.69,346.07 L275.94,345.41 L276.20,345.65 L276.46,346.36 L276.72,345.45 L276.98,346.10 L277.24,346.24 L277.50,345.62 L277.76,344.75 L278.02,342.39 L278.28,339.77 L278.53,333.49 L278.79,327.36 L279.05,320.34 L279.31,313.38 L279.57,307.50 L279.83,307.97 L280.09,309.46 L280.35,311.79 L280.61,315.10 L280.87,320.27 L281.12,324.92 L281.38,329.23 L281.64,334.13 L281.90,336.26 L282.16,339.52 L282.42,340.02 L282.68,341.51 L282.94,342.08 L283.20,342.07 L283.46,342.17 L283.71,342.28 L283.97,342.38 L284.23,343.07 L284.49,343.76 L284.75,343.48 L285.01,343.49 L285.27,344.13 L285.53,345.05 L285.79,345.06 L286.05,345.75 L286.30,345.63 L286.56,346.17 L286.82,345.97 L287.08,345.29 L287.34,345.79 L287.60,345.46 L287.86,346.23 L288.12,345.91 L288.38,345.10 L288.64,343.92 L288.89,342.83 L289.15,340.36 L289.41,338.84 L289.67,335.46 L289.93,333.55 L290.19,333.30 L290.45,331.67 L290.71,332.27 L290.97,332.08 L291.23,333.55 L291.48,333.30 L291.74,333.00 L292.00,334.52 L292.26,333.70 L292.52,332.61 L292.78,333.46 L293.04,334.07 L293.30,336.12 L293.56,338.53 L293.82,339.11 L294.07,340.61 L294.33,340.90 L294.59,341.25 L294.85,340.89 L295.11,341.76 L295.37,341.77 L295.63,342.60 L295.89,341.10 L296.15,343.09 L296.40,343.61 L296.66,344.27 L296.92,344.47 L297.18,344.67 L297.44,344.40 L297.70,344.64 L297.96,344.59 L298.22,344.95 L298.48,344.74 L298.74,344.24 L298.99,344.83 L299.25,344.82 L299.51,345.93 L299.77,345.08 L300.03,345.38 L300.29,345.16 L300.55,346.93 L300.81,345.99 L301.07,346.17 L301.33,346.19 L301.58,346.54 L301.84,346.27 L302.10,346.12 L302.36,346.40 L302.62,346.55 L302.88,346.53 L303.14,346.61 L303.40,346.45 L303.66,346.75 L303.92,347.24 L304.17,345.96 L304.43,347.16 L304.69,346.53 L304.95,346.99 L305.21,346.60 L305.47,346.87 L305.73,346.52 L305.99,346.83 L306.25,347.01 L306.51,346.39 L306.76,346.00 L307.02,346.38 L307.28,346.48 L307.54,346.93 L307.80,346.56 L308.06,346.35 L308.32,346.78 L308.58,346.19 L308.84,346.55 L309.10,346.40 L309.35,346.73 L309.61,346.73 L309.87,346.46 L310.13,346.40 L310.39,346.42 L310.65,346.94 L310.91,346.84 L311.17,346.57 L311.43,347.28 L311.69,346.16 L311.94,346.44 L312.20,346.55 L312.46,346.84 L312.72,346.26 L312.98,346.68 L313.24,345.85 L313.50,346.43 L313.76,347.15 L314.02,346.30 L314.28,346.79 L314.53,346.79 L314.79,346.68 L315.05,346.64 L315.31,346.50 L315.57,346.30 L315.83,346.42 L316.09,346.88 L316.35,347.12 L316.61,346.91 L316.87,346.47 L317.12,346.27 L317.38,345.92 L317.64,347.13 L317.90,346.58 L318.16,346.70 L318.42,346.77 L318.68,346.56 L318.94,346.71 L319.20,346.72 L319.46,346.87 L319.71,346.47 L319.97,346.22 L320.23,346.00 L320.49,346.83 L320.75,347.03 L321.01,346.73 L321.27,346.95 L321.53,346.24 L321.79,346.95 L322.05,346.61 L322.30,347.15 L322.56,346.77 L322.82,346.57 L323.08,346.06 L323.34,346.91 L323.60,346.50 L323.86,347.44 L324.12,347.11 L324.38,346.96 L324.63,346.84 L324.89,346.49 L325.15,346.41 L325.41,347.27 L325.67,346.45 L325.93,347.08 L326.19,345.95 L326.45,346.54 L326.71,346.60 L326.97,346.73 L327.22,346.67 L327.48,346.66 L327.74,346.93 L328.00,346.38 L328.26,346.56 L328.52,346.38 L328.78,346.69 L329.04,346.41 L329.30,346.96 L329.56,345.31 L329.81,346.94 L330.07,346.84 L330.33,346.30 L330.59,346.20 L330.85,346.98 L331.11,347.31 L331.37,347.21 L331.63,347.06 L331.89,346.98 L332.15,346.74 L332.40,346.29 L332.66,346.27 L332.92,346.92 L333.18,346.48 L333.44,346.35 L333.70,346.15 L333.96,346.75 L334.22,346.97 L334.48,346.40 L334.74,346.11 L334.99,346.89 L335.25,345.94 L335.51,346.03 L335.77,346.79 L336.03,347.29 L336.29,346.92 L336.55,346.83 L336.81,346.49 L337.07,347.33 L337.33,345.77 L337.58,345.80 L337.84,346.97 L338.10,347.41 L338.36,346.76 L338.62,346.54 L338.88,346.18 L339.14,346.43 L339.40,346.78 L339.66,347.46 L339.92,346.51 L340.17,346.38 L340.43,346.82 L340.69,346.60 L340.95,346.63 L341.21,346.80 L341.47,347.15 L341.73,346.58 L341.99,347.25 L342.25,346.17 L342.51,347.05 L342.76,346.52 L343.02,346.99 L343.28,346.57 L343.54,346.79 L343.80,346.51 L344.06,347.02 L344.32,347.34 L344.58,346.82 L344.84,346.85 L345.10,347.29 L345.35,346.98 L345.61,347.36 L345.87,346.67 L346.13,346.86 L346.39,346.71 L346.65,345.72 L346.91,346.66 L347.17,346.58 L347.43,346.48 L347.69,346.77 L347.94,346.95 L348.20,346.38 L348.46,346.33 L348.72,347.84 L348.98,346.78 L349.24,346.85 L349.50,346.94 L349.76,346.25 L350.02,346.93 L350.27,346.39 L350.53,346.93 L350.79,346.88 L351.05,346.45 L351.31,347.01 L351.57,346.79 L351.83,347.15 L352.09,347.07 L352.35,346.45 L352.61,346.50 L352.86,347.17 L353.12,347.18 L353.38,345.76 L353.64,346.98 L353.90,347.06 L354.16,346.53 L354.42,347.03 L354.68,346.87 L354.94,346.39 L355.20,346.35 L355.45,346.81 L355.71,346.22 L355.97,346.79 L356.23,346.82 L356.49,346.73 L356.75,346.84 L357.01,346.50 L357.27,346.53 L357.53,346.77 L357.79,346.02 L358.04,345.47 L358.30,343.84 L358.56,340.60 L358.82,334.83 L359.08,327.27 L359.34,315.28 L359.60,300.62 L359.86,286.33 L360.12,271.44 L360.38,258.89 L360.63,249.38 L360.89,247.53 L361.15,252.65 L361.41,269.43 L361.67,281.57 L361.93,297.74 L362.19,311.40 L362.45,325.20 L362.71,333.95 L362.97,340.37 L363.22,343.41 L363.48,345.44 L363.74,346.36 L364.00,346.77 L364.26,347.20 L364.52,346.73 L364.78,346.58 L365.04,346.44 L365.30,346.77 L365.56,346.33 L365.81,346.33 L366.07,347.32 L366.33,346.84 L366.59,347.21 L366.85,347.11 L367.11,346.67 L367.37,346.79 L367.63,346.18 L367.89,345.95 L368.15,346.57 L368.40,346.81 L368.66,346.78 L368.92,346.71 L369.18,346.43 L369.44,346.84 L369.70,346.14 L369.96,346.11 L370.22,345.01 L370.48,343.97 L370.74,342.48 L370.99,341.61 L371.25,340.15 L371.51,338.16 L371.77,335.33 L372.03,334.30 L372.29,333.47 L372.55,332.61 L372.81,333.79 L373.07,334.40 L373.33,335.81 L373.58,339.16 L373.84,341.00 L374.10,343.61 L374.36,344.22 L374.62,345.56 L374.88,346.35 L375.14,347.03 L375.40,345.90 L375.66,347.25 L375.92,347.14 L376.17,346.69 L376.43,346.55 L376.69,346.48 L376.95,346.40 L377.21,346.51 L377.47,345.38 L377.73,344.84 L377.99,344.43 L378.25,341.60 L378.50,340.65 L378.76,337.97 L379.02,337.20 L379.28,335.39 L379.54,333.95 L379.80,333.71 L380.06,333.29 L380.32,336.07 L380.58,336.91 L380.84,339.55 L381.09,340.81 L381.35,342.70 L381.61,344.41 L381.87,344.28 L382.13,345.86 L382.39,345.83 L382.65,347.01 L382.91,346.67 L383.17,346.65 L383.43,346.66 L383.68,346.86 L383.94,347.05 L384.20,347.91 L384.46,346.95 L384.72,347.08 L384.98,346.83 L385.24,346.40 L385.50,345.88 L385.76,346.53 L386.02,346.34 L386.27,346.49 L386.53,346.45 L386.79,346.50 L387.05,346.83 L387.31,346.85 L387.57,346.60 L387.83,346.04 L388.09,346.43 L388.35,346.11 L388.61,347.22 L388.86,346.62 L389.12,346.57 L389.38,346.53" stroke="#4a0a0a" stroke-width="0.35" fill="none" stroke-linejoin="round" stroke-linecap="round" />
</g>
<path d="M255.0,233.5 H389.5" stroke="#111" stroke-width="1" fill="none"/>
<path d="M389.5,233.5 V348.2" stroke="#444" stroke-width="0.8" fill="none"/>
<path d="M255.0,233.5 V348.2 H389.5" stroke="#2a2a2a" stroke-width="1.1" fill="none"/>
<path d="M252.60,348.20 H255.0 M253.60,340.01 H255.0 M252.60,331.81 H255.0 M253.60,323.62 H255.0 M252.60,315.43 H255.0 M253.60,307.24 H255.0 M252.60,299.04 H255.0 M253.60,290.85 H255.0 M252.60,282.66 H255.0 M253.60,274.46 H255.0 M252.60,266.27 H255.0 M253.60,258.08 H255.0 M252.60,249.89 H255.0 M253.60,241.69 H255.0 M252.60,233.50 H255.0 M258.62,348.2 v1.4 M265.40,348.2 v2.4 M272.17,348.2 v1.4 M278.95,348.2 v2.4 M285.72,348.2 v1.4 M292.50,348.2 v2.4 M299.27,348.2 v1.4 M306.05,348.2 v2.4 M312.82,348.2 v1.4 M319.60,348.2 v2.4 M326.38,348.2 v1.4 M333.15,348.2 v2.4 M339.92,348.2 v1.4 M346.70,348.2 v2.4 M353.47,348.2 v1.4 M360.25,348.2 v2.4 M367.02,348.2 v1.4 M373.80,348.2 v2.4 M380.57,348.2 v1.4 M387.35,348.2 v2.4 " stroke="#000" stroke-width="0.7" fill="none"/>
<text x="250.90" y="350.20" font-size="5.7" font-weight="bold" fill="#222" text-anchor="end" font-family='"Liberation Sans", Arial, sans-serif' stroke="#222" stroke-width="0.15">0</text>
<text x="250.90" y="333.81" font-size="5.7" font-weight="bold" fill="#222" text-anchor="end" font-family='"Liberation Sans", Arial, sans-serif' stroke="#222" stroke-width="0.15">100</text>
<text x="250.90" y="317.43" font-size="5.7" font-weight="bold" fill="#222" text-anchor="end" font-family='"Liberation Sans", Arial, sans-serif' stroke="#222" stroke-width="0.15">200</text>
<text x="250.90" y="301.04" font-size="5.7" font-weight="bold" fill="#222" text-anchor="end" font-family='"Liberation Sans", Arial, sans-serif' stroke="#222" stroke-width="0.15">300</text>
<text x="250.90" y="284.66" font-size="5.7" font-weight="bold" fill="#222" text-anchor="end" font-family='"Liberation Sans", Arial, sans-serif' stroke="#222" stroke-width="0.15">400</text>
<text x="250.90" y="268.27" font-size="5.7" font-weight="bold" fill="#222" text-anchor="end" font-family='"Liberation Sans", Arial, sans-serif' stroke="#222" stroke-width="0.15">500</text>
<text x="250.90" y="251.89" font-size="5.7" font-weight="bold" fill="#222" text-anchor="end" font-family='"Liberation Sans", Arial, sans-serif' stroke="#222" stroke-width="0.15">600</text>
<text x="250.90" y="235.50" font-size="5.7" font-weight="bold" fill="#222" text-anchor="end" font-family='"Liberation Sans", Arial, sans-serif' stroke="#222" stroke-width="0.15">700</text>
<text x="265.40" y="356.50" font-size="5.4" font-weight="bold" fill="#222" text-anchor="middle" font-family='"Liberation Sans", Arial, sans-serif' stroke="#222" stroke-width="0.15">1</text>
<text x="278.95" y="356.50" font-size="5.4" font-weight="bold" fill="#222" text-anchor="middle" font-family='"Liberation Sans", Arial, sans-serif' stroke="#222" stroke-width="0.15">2</text>
<text x="292.50" y="356.50" font-size="5.4" font-weight="bold" fill="#222" text-anchor="middle" font-family='"Liberation Sans", Arial, sans-serif' stroke="#222" stroke-width="0.15">3</text>
<text x="306.05" y="356.50" font-size="5.4" font-weight="bold" fill="#222" text-anchor="middle" font-family='"Liberation Sans", Arial, sans-serif' stroke="#222" stroke-width="0.15">4</text>
<text x="319.60" y="356.50" font-size="5.4" font-weight="bold" fill="#222" text-anchor="middle" font-family='"Liberation Sans", Arial, sans-serif' stroke="#222" stroke-width="0.15">5</text>
<text x="333.15" y="356.50" font-size="5.4" font-weight="bold" fill="#222" text-anchor="middle" font-family='"Liberation Sans", Arial, sans-serif' stroke="#222" stroke-width="0.15">6</text>
<text x="346.70" y="356.50" font-size="5.4" font-weight="bold" fill="#222" text-anchor="middle" font-family='"Liberation Sans", Arial, sans-serif' stroke="#222" stroke-width="0.15">7</text>
<text x="360.25" y="356.50" font-size="5.4" font-weight="bold" fill="#222" text-anchor="middle" font-family='"Liberation Sans", Arial, sans-serif' stroke="#222" stroke-width="0.15">8</text>
<text x="373.80" y="356.50" font-size="5.4" font-weight="bold" fill="#222" text-anchor="middle" font-family='"Liberation Sans", Arial, sans-serif' stroke="#222" stroke-width="0.15">9</text>
<text x="387.35" y="356.50" font-size="5.4" font-weight="bold" fill="#222" text-anchor="middle" font-family='"Liberation Sans", Arial, sans-serif' stroke="#222" stroke-width="0.15">10</text>
<text x="322.30" y="368.70" font-size="7.2" font-weight="bold" fill="#222" text-anchor="middle" font-family='"Liberation Sans", Arial, sans-serif' stroke="#222" stroke-width="0.15">Energy (keV)</text>
<text x="0.00" y="0.00" font-size="8.0" font-weight="bold" fill="#222" text-anchor="middle" font-family='"Liberation Sans", Arial, sans-serif' stroke="#222" stroke-width="0.2" transform="translate(235.1,293.5) rotate(-90)">Intensity (counts)</text>
<text x="360.60" y="245.00" font-size="6.6" font-weight="bold" fill="#111" text-anchor="middle" font-family='"Liberation Sans", Arial, sans-serif' stroke="#111" stroke-width="0.25">Cu</text>
<text x="279.90" y="305.20" font-size="6.6" font-weight="bold" fill="#111" text-anchor="middle" font-family='"Liberation Sans", Arial, sans-serif' stroke="#111" stroke-width="0.25">Pt</text>
<text x="290.80" y="329.20" font-size="6.6" font-weight="bold" fill="#111" text-anchor="middle" font-family='"Liberation Sans", Arial, sans-serif' stroke="#111" stroke-width="0.25">Pd</text>
<text x="264.20" y="335.60" font-size="6.6" font-weight="bold" fill="#111" text-anchor="middle" font-family='"Liberation Sans", Arial, sans-serif' stroke="#111" stroke-width="0.25">Cu</text>
<text x="372.20" y="325.20" font-size="6.6" font-weight="bold" fill="#111" text-anchor="middle" font-family='"Liberation Sans", Arial, sans-serif' stroke="#111" stroke-width="0.25">Cu</text>
<text x="381.40" y="329.60" font-size="6.6" font-weight="bold" fill="#111" text-anchor="middle" font-family='"Liberation Sans", Arial, sans-serif' stroke="#111" stroke-width="0.25">Pt</text>
<text x="218.00" y="242.50" font-size="17.0" font-weight="bold" fill="#000" text-anchor="start" font-family='"Liberation Sans", Arial, sans-serif' textLength="20.60" lengthAdjust="spacingAndGlyphs" >(d)</text>
<text x="249.50" y="385.60" font-size="9.8" font-weight="bold" fill="#111" text-anchor="start" font-family='"Liberation Sans", Arial, sans-serif' textLength="35.50" lengthAdjust="spacingAndGlyphs" stroke="#111" stroke-width="0.12">Element</text>
<text x="303.60" y="385.60" font-size="9.8" font-weight="bold" fill="#111" text-anchor="start" font-family='"Liberation Sans", Arial, sans-serif' textLength="17.60" lengthAdjust="spacingAndGlyphs" stroke="#111" stroke-width="0.12">Line</text>
<text x="355.30" y="385.60" font-size="9.8" font-weight="bold" fill="#111" text-anchor="start" font-family='"Liberation Sans", Arial, sans-serif' textLength="17.70" lengthAdjust="spacingAndGlyphs" stroke="#111" stroke-width="0.12">at %</text>
<path d="M236.8,392.6 H389.2 M236.8,430.6 H389.2" stroke="#2a2a2a" stroke-width="0.9" fill="none"/>
<text x="241.90" y="404.80" font-size="9.6" font-weight="bold" fill="#111" text-anchor="start" font-family='"Liberation Sans", Arial, sans-serif' textLength="10.30" lengthAdjust="spacingAndGlyphs" stroke="#111" stroke-width="0.12">Pd</text>
<text x="303.60" y="404.80" font-size="9.8" font-weight="bold" fill="#111" text-anchor="start" font-family='"Liberation Sans", Arial, sans-serif' >L<tspan font-weight="normal" font-size="10" font-family="DejaVu Sans, sans-serif">α</tspan></text>
<text x="344.90" y="404.80" font-size="9.8" font-weight="bold" fill="#111" text-anchor="start" font-family='"Liberation Sans", Arial, sans-serif' textLength="23.30" lengthAdjust="spacingAndGlyphs" stroke="#111" stroke-width="0.12">52.65</text>
<text x="241.90" y="423.50" font-size="9.6" font-weight="bold" fill="#111" text-anchor="start" font-family='"Liberation Sans", Arial, sans-serif' textLength="8.20" lengthAdjust="spacingAndGlyphs" stroke="#111" stroke-width="0.12">Pt</text>
<text x="303.60" y="423.50" font-size="9.8" font-weight="bold" fill="#111" text-anchor="start" font-family='"Liberation Sans", Arial, sans-serif' >L<tspan font-weight="normal" font-size="10" font-family="DejaVu Sans, sans-serif">α</tspan></text>
<text x="344.90" y="423.50" font-size="9.8" font-weight="bold" fill="#111" text-anchor="start" font-family='"Liberation Sans", Arial, sans-serif' textLength="23.30" lengthAdjust="spacingAndGlyphs" stroke="#111" stroke-width="0.12">47.35</text>
<rect x="398.4" y="232" width="141.8" height="141.3" fill="#020202"/>
<circle cx="468.6" cy="300.8" r="32" fill="url(#np)"/>
<circle cx="468.6" cy="300.8" r="27" fill="#fff" filter="url(#grain)" opacity="0.6"/>
<path d="M445.2,342.4 L494.3,262.4" stroke="#1e80d2" stroke-width="3.1" stroke-linecap="butt"/>
<path d="M445.50,341.20 L447.10,337.70 L449.80,334.10 L451.60,330.00 L454.30,327.80 L445.84,318.79 L437.43,309.46 L428.65,304.05 L425.27,299.32 L421.89,296.62 L421.22,293.24 L417.84,289.86 L418.51,287.16 L425.27,289.19 L430.00,291.22 L425.27,286.49 L422.57,283.78 L429.32,283.11 L436.08,281.08 L430.00,279.05 L422.57,272.30 L427.30,272.30 L433.38,273.65 L428.65,268.92 L421.22,263.51 L430.00,265.54 L437.43,268.92 L433.38,263.51 L425.27,256.76 L434.05,262.16 L442.84,262.84 L440.14,260.14 L449.59,262.16 L446.89,258.11 L459.05,262.16 L464.46,264.86 L484.20,274.20 L488.70,274.20 L491.50,272.50 L492.10,270.30 L494.90,266.90" stroke="#ff1010" stroke-width="1.7" fill="none" stroke-linejoin="round" stroke-linecap="round" />
<path d="M451.30,341.40 L449.00,336.50 L454.60,333.60 L452.60,331.20 L456.40,326.60 L447.08,317.30 L440.14,309.46 L434.05,306.08 L428.65,304.73 L429.32,298.65 L425.27,294.59 L422.57,289.19 L419.19,286.49 L413.78,282.43 L415.81,281.08 L421.22,281.76 L431.35,284.46 L434.05,280.41 L421.89,271.62 L434.05,275.00 L427.97,265.54 L438.78,270.27 L431.35,262.84 L444.19,266.22 L437.43,256.08 L442.84,260.14 L449.59,259.46 L464.46,264.19 L483.60,273.60 L485.90,271.40 L489.80,270.00 L492.10,268.00 L493.80,266.90 L492.10,264.60 L494.90,263.50 L496.90,264.10" stroke="#10ff10" stroke-width="1.9" fill="none" stroke-linejoin="round" stroke-linecap="round" />
<text x="404.20" y="252.60" font-size="15.8" font-weight="bold" fill="#fff" text-anchor="start" font-family='"Liberation Sans", Arial, sans-serif' textLength="20.40" lengthAdjust="spacingAndGlyphs" >(e)</text>
<text x="405.60" y="355.70" font-size="26.5" font-weight="bold" fill="#fff" text-anchor="start" font-family='"Liberation Serif", "Times New Roman", serif' textLength="54.20" lengthAdjust="spacingAndGlyphs" >5 nm</text>
<rect x="405.3" y="361.8" width="31.8" height="3.1" fill="#fff"/>
<path d="M503.2,349.8 H514.2" stroke="#f00" stroke-width="2.8" stroke-linecap="round"/>
<path d="M503.2,363.6 H514.2" stroke="#0f0" stroke-width="2.8" stroke-linecap="round"/>
<text x="520.40" y="351.00" font-size="10.7" font-weight="bold" fill="#fff" text-anchor="start" font-family='"Liberation Sans", Arial, sans-serif' >Pt</text>
<text x="520.40" y="365.50" font-size="10.7" font-weight="bold" fill="#fff" text-anchor="start" font-family='"Liberation Sans", Arial, sans-serif' >Pd</text>
</svg></body></html>
